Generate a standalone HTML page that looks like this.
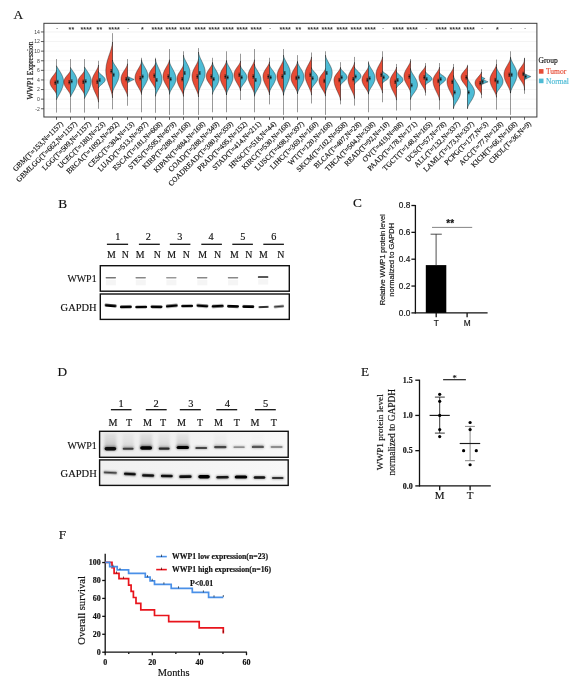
<!DOCTYPE html>
<html lang="en"><head><meta charset="utf-8"><title>WWP1 expression figure</title>
<style>html,body{margin:0;padding:0;background:#fff;}body{width:569px;height:685px;overflow:hidden;}svg{display:block;}text{white-space:pre;stroke:#111;stroke-width:.16px;}text.r{stroke:#E64B35;}text.b{stroke:#4DBBD5;}text.n{stroke:none;}</style>
</head><body>
<svg width="569" height="685" viewBox="0 0 569 685">
<defs>
<filter id="b04" x="-30%" y="-100%" width="160%" height="300%"><feGaussianBlur stdDeviation="0.4"/></filter>
<filter id="b05" x="-30%" y="-100%" width="160%" height="300%"><feGaussianBlur stdDeviation="0.5"/></filter>
<filter id="b07" x="-30%" y="-100%" width="160%" height="300%"><feGaussianBlur stdDeviation="0.8"/></filter>
<filter id="b12" x="-30%" y="-100%" width="160%" height="300%"><feGaussianBlur stdDeviation="1.2"/></filter>
<linearGradient id="smear" x1="0" y1="0" x2="0" y2="1"><stop offset="0" stop-color="#777" stop-opacity="0.25"/><stop offset="0.6" stop-color="#666" stop-opacity="0.5"/><stop offset="1" stop-color="#333" stop-opacity="0.9"/></linearGradient>
<linearGradient id="bgD" x1="0" y1="0" x2="1" y2="0"><stop offset="0" stop-color="#ececec"/><stop offset="0.5" stop-color="#f2f2f2"/><stop offset="1" stop-color="#f8f8f8"/></linearGradient>
<linearGradient id="bgD2" x1="0" y1="0" x2="1" y2="0"><stop offset="0" stop-color="#f1f1f1"/><stop offset="0.5" stop-color="#f4f4f4"/><stop offset="1" stop-color="#f8f8f8"/></linearGradient>
</defs>
<rect width="569" height="685" fill="#fff"/>
<g id="pA">
<line x1="43.9" x2="536.9" y1="113.55" y2="113.55" stroke="#fcfcfc" stroke-width="0.5"/>
<line x1="43.9" x2="536.9" y1="108.75" y2="108.75" stroke="#ebebeb" stroke-width="0.6"/>
<line x1="43.9" x2="536.9" y1="103.95" y2="103.95" stroke="#fcfcfc" stroke-width="0.5"/>
<line x1="43.9" x2="536.9" y1="99.15" y2="99.15" stroke="#ebebeb" stroke-width="0.6"/>
<line x1="43.9" x2="536.9" y1="94.35" y2="94.35" stroke="#fcfcfc" stroke-width="0.5"/>
<line x1="43.9" x2="536.9" y1="89.55" y2="89.55" stroke="#ebebeb" stroke-width="0.6"/>
<line x1="43.9" x2="536.9" y1="84.75" y2="84.75" stroke="#fcfcfc" stroke-width="0.5"/>
<line x1="43.9" x2="536.9" y1="79.95" y2="79.95" stroke="#ebebeb" stroke-width="0.6"/>
<line x1="43.9" x2="536.9" y1="75.15" y2="75.15" stroke="#fcfcfc" stroke-width="0.5"/>
<line x1="43.9" x2="536.9" y1="70.35" y2="70.35" stroke="#ebebeb" stroke-width="0.6"/>
<line x1="43.9" x2="536.9" y1="65.55" y2="65.55" stroke="#fcfcfc" stroke-width="0.5"/>
<line x1="43.9" x2="536.9" y1="60.75" y2="60.75" stroke="#ebebeb" stroke-width="0.6"/>
<line x1="43.9" x2="536.9" y1="55.95" y2="55.95" stroke="#fcfcfc" stroke-width="0.5"/>
<line x1="43.9" x2="536.9" y1="51.15" y2="51.15" stroke="#ebebeb" stroke-width="0.6"/>
<line x1="43.9" x2="536.9" y1="46.35" y2="46.35" stroke="#fcfcfc" stroke-width="0.5"/>
<line x1="43.9" x2="536.9" y1="41.55" y2="41.55" stroke="#ebebeb" stroke-width="0.6"/>
<line x1="43.9" x2="536.9" y1="36.75" y2="36.75" stroke="#fcfcfc" stroke-width="0.5"/>
<line x1="43.9" x2="536.9" y1="31.95" y2="31.95" stroke="#ebebeb" stroke-width="0.6"/>
<line x1="56.50" x2="56.50" y1="59.02" y2="112.62" stroke="#444" stroke-width="0.55"/>
<path d="M56.50 70.19 L56.50 70.19 L56.40 70.75 L56.21 71.31 L55.95 71.87 L55.63 72.43 L55.27 72.99 L54.89 73.55 L54.47 74.11 L54.04 74.66 L53.60 75.22 L53.16 75.78 L52.73 76.34 L52.30 76.90 L51.90 77.46 L51.53 78.02 L51.18 78.58 L50.87 79.14 L50.61 79.70 L50.38 80.26 L50.21 80.82 L50.09 81.38 L50.02 81.93 L50.00 82.49 L50.03 83.05 L50.12 83.61 L50.26 84.17 L50.44 84.73 L50.68 85.29 L50.95 85.85 L51.26 86.41 L51.61 86.97 L51.99 87.53 L52.39 88.09 L52.80 88.64 L53.23 89.20 L53.67 89.76 L54.10 90.32 L54.52 90.88 L54.93 91.44 L55.31 92.00 L55.65 92.56 L55.96 93.12 L56.22 93.68 L56.41 94.24 L56.50 94.80 L56.50 94.80 Z" fill="#E64B35" stroke="#111" stroke-width="0.4" stroke-linejoin="round"/>
<path d="M56.50 65.79 L56.50 65.79 L56.87 66.56 L57.31 67.33 L57.79 68.09 L58.28 68.86 L58.77 69.63 L59.27 70.40 L59.76 71.17 L60.23 71.94 L60.69 72.71 L61.13 73.48 L61.54 74.25 L61.92 75.02 L62.26 75.79 L62.57 76.56 L62.84 77.33 L63.07 78.10 L63.25 78.87 L63.39 79.64 L63.48 80.41 L63.53 81.18 L63.52 81.94 L63.49 82.71 L63.41 83.48 L63.30 84.25 L63.16 85.02 L62.98 85.79 L62.77 86.56 L62.53 87.33 L62.26 88.10 L61.97 88.87 L61.64 89.64 L61.30 90.41 L60.93 91.18 L60.54 91.95 L60.14 92.72 L59.73 93.49 L59.31 94.26 L58.88 95.02 L58.45 95.79 L58.02 96.56 L57.60 97.33 L57.19 98.10 L56.81 98.87 L56.50 99.64 L56.50 99.64 Z" fill="#4DBBD5" stroke="#111" stroke-width="0.4" stroke-linejoin="round"/>
<path d="M55.25 80.99 V84.39 M54.40 80.99 H56.10 M54.40 84.39 H56.10" stroke="#111" stroke-width="0.5" fill="none"/>
<circle cx="55.25" cy="82.69" r="0.85" fill="#111"/>
<path d="M57.75 80.31 V83.31 M56.90 80.31 H58.60 M56.90 83.31 H58.60" stroke="#111" stroke-width="0.5" fill="none"/>
<circle cx="57.75" cy="81.81" r="0.85" fill="#111"/>
<line x1="70.50" x2="70.50" y1="59.02" y2="112.62" stroke="#444" stroke-width="0.55"/>
<path d="M70.50 70.08 L70.50 70.08 L70.39 70.66 L70.17 71.23 L69.87 71.81 L69.51 72.39 L69.11 72.97 L68.67 73.55 L68.20 74.12 L67.72 74.70 L67.24 75.28 L66.76 75.86 L66.29 76.44 L65.84 77.01 L65.43 77.59 L65.04 78.17 L64.71 78.75 L64.42 79.33 L64.18 79.90 L64.00 80.48 L63.88 81.06 L63.83 81.64 L63.83 82.22 L63.88 82.79 L63.98 83.37 L64.13 83.95 L64.31 84.53 L64.54 85.11 L64.81 85.68 L65.11 86.26 L65.44 86.84 L65.80 87.42 L66.19 88.00 L66.58 88.57 L67.00 89.15 L67.41 89.73 L67.83 90.31 L68.24 90.89 L68.64 91.46 L69.03 92.04 L69.39 92.62 L69.71 93.20 L70.00 93.78 L70.24 94.35 L70.41 94.93 L70.50 95.51 L70.50 95.51 Z" fill="#E64B35" stroke="#111" stroke-width="0.4" stroke-linejoin="round"/>
<path d="M70.50 67.48 L70.50 67.48 L70.84 68.15 L71.26 68.82 L71.71 69.48 L72.17 70.15 L72.63 70.82 L73.09 71.49 L73.55 72.16 L73.99 72.83 L74.42 73.50 L74.83 74.16 L75.21 74.83 L75.56 75.50 L75.87 76.17 L76.16 76.84 L76.40 77.51 L76.61 78.18 L76.77 78.84 L76.89 79.51 L76.97 80.18 L77.00 80.85 L76.99 81.52 L76.95 82.19 L76.88 82.86 L76.77 83.52 L76.63 84.19 L76.46 84.86 L76.27 85.53 L76.04 86.20 L75.79 86.87 L75.52 87.53 L75.22 88.20 L74.90 88.87 L74.56 89.54 L74.20 90.21 L73.84 90.88 L73.46 91.55 L73.07 92.21 L72.67 92.88 L72.28 93.55 L71.89 94.22 L71.50 94.89 L71.13 95.56 L70.79 96.23 L70.50 96.89 L70.50 96.89 Z" fill="#4DBBD5" stroke="#111" stroke-width="0.4" stroke-linejoin="round"/>
<path d="M69.25 80.46 V83.86 M68.40 80.46 H70.10 M68.40 83.86 H70.10" stroke="#111" stroke-width="0.5" fill="none"/>
<circle cx="69.25" cy="82.16" r="0.85" fill="#111"/>
<path d="M71.75 79.78 V82.78 M70.90 79.78 H72.60 M70.90 82.78 H72.60" stroke="#111" stroke-width="0.5" fill="none"/>
<circle cx="71.75" cy="81.28" r="0.85" fill="#111"/>
<line x1="84.50" x2="84.50" y1="59.02" y2="112.62" stroke="#444" stroke-width="0.55"/>
<path d="M84.50 70.14 L84.50 70.14 L84.39 70.71 L84.16 71.29 L83.86 71.86 L83.49 72.43 L83.08 73.01 L82.64 73.58 L82.17 74.15 L81.69 74.73 L81.20 75.30 L80.73 75.87 L80.26 76.45 L79.83 77.02 L79.42 77.59 L79.05 78.17 L78.73 78.74 L78.47 79.31 L78.26 79.89 L78.11 80.46 L78.02 81.03 L78.00 81.61 L78.03 82.18 L78.10 82.75 L78.22 83.33 L78.37 83.90 L78.57 84.47 L78.80 85.05 L79.07 85.62 L79.37 86.19 L79.69 86.77 L80.04 87.34 L80.41 87.91 L80.80 88.48 L81.19 89.06 L81.59 89.63 L81.99 90.20 L82.38 90.78 L82.75 91.35 L83.12 91.92 L83.45 92.50 L83.76 93.07 L84.03 93.64 L84.25 94.22 L84.42 94.79 L84.50 95.36 L84.50 95.36 Z" fill="#E64B35" stroke="#111" stroke-width="0.4" stroke-linejoin="round"/>
<path d="M84.50 66.92 L84.50 66.92 L84.87 67.64 L85.31 68.36 L85.79 69.08 L86.27 69.80 L86.77 70.52 L87.26 71.24 L87.74 71.96 L88.21 72.68 L88.65 73.40 L89.07 74.11 L89.47 74.83 L89.83 75.55 L90.15 76.27 L90.43 76.99 L90.67 77.71 L90.87 78.43 L91.02 79.15 L91.12 79.87 L91.17 80.58 L91.18 81.30 L91.15 82.02 L91.08 82.74 L90.99 83.46 L90.87 84.18 L90.72 84.90 L90.53 85.62 L90.32 86.34 L90.09 87.06 L89.83 87.77 L89.54 88.49 L89.24 89.21 L88.91 89.93 L88.57 90.65 L88.21 91.37 L87.83 92.09 L87.45 92.81 L87.06 93.53 L86.67 94.25 L86.27 94.96 L85.88 95.68 L85.50 96.40 L85.13 97.12 L84.78 97.84 L84.50 98.56 L84.50 98.56 Z" fill="#4DBBD5" stroke="#111" stroke-width="0.4" stroke-linejoin="round"/>
<path d="M83.25 80.11 V83.51 M82.40 80.11 H84.10 M82.40 83.51 H84.10" stroke="#111" stroke-width="0.5" fill="none"/>
<circle cx="83.25" cy="81.81" r="0.85" fill="#111"/>
<path d="M85.75 79.78 V82.78 M84.90 79.78 H86.60 M84.90 82.78 H86.60" stroke="#111" stroke-width="0.5" fill="none"/>
<circle cx="85.75" cy="81.28" r="0.85" fill="#111"/>
<line x1="98.50" x2="98.50" y1="60.77" y2="108.75" stroke="#444" stroke-width="0.55"/>
<path d="M98.50 64.97 L98.50 64.97 L98.39 65.82 L98.15 66.66 L97.84 67.51 L97.47 68.35 L97.05 69.20 L96.60 70.05 L96.12 70.89 L95.63 71.74 L95.14 72.58 L94.66 73.43 L94.19 74.27 L93.75 75.12 L93.35 75.97 L92.99 76.81 L92.67 77.66 L92.41 78.50 L92.21 79.35 L92.08 80.20 L92.01 81.04 L92.00 81.89 L92.04 82.73 L92.12 83.58 L92.25 84.42 L92.41 85.27 L92.62 86.12 L92.85 86.96 L93.13 87.81 L93.43 88.65 L93.75 89.50 L94.10 90.35 L94.47 91.19 L94.85 92.04 L95.24 92.88 L95.63 93.73 L96.03 94.57 L96.41 95.42 L96.78 96.27 L97.14 97.11 L97.47 97.96 L97.77 98.80 L98.04 99.65 L98.26 100.50 L98.42 101.34 L98.50 102.19 L98.50 102.19 Z" fill="#E64B35" stroke="#111" stroke-width="0.4" stroke-linejoin="round"/>
<path d="M98.50 71.48 L98.50 71.48 L98.60 71.86 L98.80 72.24 L99.06 72.61 L99.38 72.99 L99.74 73.36 L100.14 73.74 L100.56 74.12 L101.00 74.49 L101.44 74.87 L101.89 75.24 L102.34 75.62 L102.77 75.99 L103.18 76.37 L103.56 76.75 L103.92 77.12 L104.24 77.50 L104.52 77.87 L104.75 78.25 L104.94 78.63 L105.07 79.00 L105.15 79.38 L105.18 79.75 L105.15 80.13 L105.07 80.51 L104.94 80.88 L104.75 81.26 L104.52 81.63 L104.24 82.01 L103.92 82.39 L103.56 82.76 L103.18 83.14 L102.77 83.51 L102.34 83.89 L101.89 84.27 L101.44 84.64 L101.00 85.02 L100.56 85.39 L100.14 85.77 L99.74 86.14 L99.38 86.52 L99.06 86.90 L98.80 87.27 L98.60 87.65 L98.50 88.02 L98.50 88.02 Z" fill="#4DBBD5" stroke="#111" stroke-width="0.4" stroke-linejoin="round"/>
<path d="M97.25 80.11 V83.51 M96.40 80.11 H98.10 M96.40 83.51 H98.10" stroke="#111" stroke-width="0.5" fill="none"/>
<circle cx="97.25" cy="81.81" r="0.85" fill="#111"/>
<path d="M99.75 78.55 V81.55 M98.90 78.55 H100.60 M98.90 81.55 H100.60" stroke="#111" stroke-width="0.5" fill="none"/>
<circle cx="99.75" cy="80.05" r="0.85" fill="#111"/>
<line x1="112.50" x2="112.50" y1="33.18" y2="109.28" stroke="#444" stroke-width="0.55"/>
<path d="M112.50 42.02 L112.50 42.02 L112.41 43.29 L112.22 44.56 L111.97 45.83 L111.67 47.10 L111.33 48.36 L110.95 49.63 L110.55 50.90 L110.13 52.17 L109.70 53.44 L109.27 54.71 L108.84 55.98 L108.42 57.25 L108.01 58.51 L107.62 59.78 L107.27 61.05 L106.94 62.32 L106.65 63.59 L106.39 64.86 L106.18 66.13 L106.02 67.40 L105.90 68.66 L105.84 69.93 L105.82 71.20 L105.86 72.47 L105.96 73.74 L106.12 75.01 L106.32 76.28 L106.58 77.55 L106.89 78.81 L107.24 80.08 L107.62 81.35 L108.04 82.62 L108.48 83.89 L108.94 85.16 L109.40 86.43 L109.87 87.70 L110.32 88.96 L110.77 90.23 L111.18 91.50 L111.57 92.77 L111.91 94.04 L112.19 95.31 L112.40 96.58 L112.50 97.85 L112.50 97.85 Z" fill="#E64B35" stroke="#111" stroke-width="0.4" stroke-linejoin="round"/>
<path d="M112.50 60.01 L112.50 60.01 L112.62 60.76 L112.86 61.51 L113.19 62.26 L113.58 63.02 L114.02 63.77 L114.50 64.52 L115.00 65.27 L115.51 66.02 L116.02 66.77 L116.52 67.53 L117.00 68.28 L117.46 69.03 L117.87 69.78 L118.24 70.53 L118.55 71.29 L118.81 72.04 L119.00 72.79 L119.12 73.54 L119.18 74.29 L119.17 75.05 L119.11 75.80 L119.02 76.55 L118.88 77.30 L118.70 78.05 L118.49 78.80 L118.24 79.56 L117.96 80.31 L117.65 81.06 L117.31 81.81 L116.95 82.56 L116.58 83.32 L116.19 84.07 L115.79 84.82 L115.39 85.57 L115.00 86.32 L114.61 87.08 L114.23 87.83 L113.87 88.58 L113.54 89.33 L113.23 90.08 L112.97 90.83 L112.74 91.59 L112.58 92.34 L112.50 93.09 L112.50 93.09 Z" fill="#4DBBD5" stroke="#111" stroke-width="0.4" stroke-linejoin="round"/>
<path d="M111.25 69.57 V72.97 M110.40 69.57 H112.10 M110.40 72.97 H112.10" stroke="#111" stroke-width="0.5" fill="none"/>
<circle cx="111.25" cy="71.27" r="0.85" fill="#111"/>
<path d="M113.75 73.28 V76.28 M112.90 73.28 H114.60 M112.90 76.28 H114.60" stroke="#111" stroke-width="0.5" fill="none"/>
<circle cx="113.75" cy="74.78" r="0.85" fill="#111"/>
<line x1="127.50" x2="127.50" y1="59.02" y2="105.76" stroke="#444" stroke-width="0.55"/>
<path d="M127.50 63.78 L127.50 63.78 L127.39 64.52 L127.17 65.27 L126.88 66.01 L126.53 66.75 L126.14 67.49 L125.71 68.24 L125.25 68.98 L124.78 69.72 L124.31 70.46 L123.84 71.21 L123.39 71.95 L122.95 72.69 L122.54 73.43 L122.17 74.18 L121.84 74.92 L121.56 75.66 L121.34 76.40 L121.16 77.15 L121.05 77.89 L121.00 78.63 L121.01 79.37 L121.06 80.12 L121.16 80.86 L121.30 81.60 L121.49 82.34 L121.71 83.09 L121.97 83.83 L122.27 84.57 L122.59 85.31 L122.94 86.06 L123.31 86.80 L123.70 87.54 L124.10 88.28 L124.51 89.03 L124.91 89.77 L125.31 90.51 L125.70 91.25 L126.07 92.00 L126.42 92.74 L126.74 93.48 L127.01 94.22 L127.24 94.96 L127.42 95.71 L127.50 96.45 L127.50 96.45 Z" fill="#E64B35" stroke="#111" stroke-width="0.4" stroke-linejoin="round"/>
<path d="M127.50 76.24 L127.50 76.24 L127.70 76.39 L127.95 76.54 L128.22 76.69 L128.50 76.85 L128.79 77.00 L129.10 77.15 L129.40 77.30 L129.72 77.45 L130.04 77.61 L130.37 77.76 L130.70 77.91 L131.04 78.06 L131.38 78.21 L131.73 78.36 L132.08 78.52 L132.43 78.67 L132.78 78.82 L133.14 78.97 L133.50 79.12 L133.87 79.27 L134.13 79.43 L133.80 79.58 L133.47 79.73 L133.14 79.88 L132.82 80.03 L132.50 80.19 L132.18 80.34 L131.87 80.49 L131.55 80.64 L131.24 80.79 L130.94 80.94 L130.64 81.10 L130.34 81.25 L130.04 81.40 L129.75 81.55 L129.47 81.70 L129.19 81.85 L128.91 82.01 L128.65 82.16 L128.39 82.31 L128.14 82.46 L127.90 82.61 L127.68 82.77 L127.50 82.92 L127.50 82.92 Z" fill="#4DBBD5" stroke="#111" stroke-width="0.4" stroke-linejoin="round"/>
<path d="M126.25 77.48 V80.88 M125.40 77.48 H127.10 M125.40 80.88 H127.10" stroke="#111" stroke-width="0.5" fill="none"/>
<circle cx="126.25" cy="79.18" r="0.85" fill="#111"/>
<path d="M128.75 77.90 V80.90 M127.90 77.90 H129.60 M127.90 80.90 H129.60" stroke="#111" stroke-width="0.5" fill="none"/>
<circle cx="128.75" cy="79.40" r="0.85" fill="#111"/>
<line x1="141.50" x2="141.50" y1="57.79" y2="112.27" stroke="#444" stroke-width="0.55"/>
<path d="M141.50 61.46 L141.50 61.46 L141.40 62.21 L141.21 62.96 L140.95 63.71 L140.64 64.46 L140.29 65.21 L139.91 65.97 L139.50 66.72 L139.07 67.47 L138.63 68.22 L138.20 68.97 L137.77 69.73 L137.35 70.48 L136.94 71.23 L136.57 71.98 L136.22 72.73 L135.91 73.49 L135.64 74.24 L135.41 74.99 L135.23 75.74 L135.10 76.49 L135.02 77.24 L135.00 78.00 L135.02 78.75 L135.10 79.50 L135.23 80.25 L135.41 81.00 L135.64 81.76 L135.91 82.51 L136.22 83.26 L136.57 84.01 L136.94 84.76 L137.35 85.52 L137.77 86.27 L138.20 87.02 L138.63 87.77 L139.07 88.52 L139.50 89.27 L139.91 90.03 L140.29 90.78 L140.64 91.53 L140.95 92.28 L141.21 93.03 L141.40 93.79 L141.50 94.54 L141.50 94.54 Z" fill="#E64B35" stroke="#111" stroke-width="0.4" stroke-linejoin="round"/>
<path d="M141.50 59.70 L141.50 59.70 L141.60 60.45 L141.79 61.20 L142.05 61.95 L142.36 62.71 L142.71 63.46 L143.09 64.21 L143.50 64.96 L143.93 65.71 L144.37 66.46 L144.80 67.22 L145.23 67.97 L145.65 68.72 L146.06 69.47 L146.43 70.22 L146.78 70.98 L147.09 71.73 L147.36 72.48 L147.59 73.23 L147.77 73.98 L147.90 74.74 L147.98 75.49 L148.00 76.24 L147.98 76.99 L147.90 77.74 L147.77 78.49 L147.59 79.25 L147.36 80.00 L147.09 80.75 L146.78 81.50 L146.43 82.25 L146.06 83.01 L145.65 83.76 L145.23 84.51 L144.80 85.26 L144.37 86.01 L143.93 86.77 L143.50 87.52 L143.09 88.27 L142.71 89.02 L142.36 89.77 L142.05 90.52 L141.79 91.28 L141.60 92.03 L141.50 92.78 L141.50 92.78 Z" fill="#4DBBD5" stroke="#111" stroke-width="0.4" stroke-linejoin="round"/>
<path d="M140.25 76.60 V80.00 M139.40 76.60 H141.10 M139.40 80.00 H141.10" stroke="#111" stroke-width="0.5" fill="none"/>
<circle cx="140.25" cy="78.30" r="0.85" fill="#111"/>
<path d="M142.75 75.04 V78.04 M141.90 75.04 H143.60 M141.90 78.04 H143.60" stroke="#111" stroke-width="0.5" fill="none"/>
<circle cx="142.75" cy="76.54" r="0.85" fill="#111"/>
<line x1="155.50" x2="155.50" y1="57.79" y2="112.79" stroke="#444" stroke-width="0.55"/>
<path d="M155.50 62.95 L155.50 62.95 L155.39 63.57 L155.17 64.18 L154.88 64.79 L154.53 65.40 L154.13 66.01 L153.70 66.62 L153.25 67.23 L152.78 67.84 L152.31 68.45 L151.84 69.06 L151.38 69.67 L150.94 70.29 L150.54 70.90 L150.17 71.51 L149.84 72.12 L149.56 72.73 L149.33 73.34 L149.16 73.95 L149.05 74.56 L149.00 75.17 L149.01 75.78 L149.06 76.39 L149.16 77.00 L149.30 77.62 L149.49 78.23 L149.71 78.84 L149.98 79.45 L150.27 80.06 L150.59 80.67 L150.94 81.28 L151.32 81.89 L151.70 82.50 L152.10 83.11 L152.51 83.72 L152.91 84.34 L153.31 84.95 L153.70 85.56 L154.07 86.17 L154.42 86.78 L154.74 87.39 L155.01 88.00 L155.24 88.61 L155.42 89.22 L155.50 89.83 L155.50 89.83 Z" fill="#E64B35" stroke="#111" stroke-width="0.4" stroke-linejoin="round"/>
<path d="M155.50 59.08 L155.50 59.08 L155.58 59.92 L155.74 60.77 L155.96 61.62 L156.23 62.46 L156.53 63.31 L156.86 64.15 L157.22 65.00 L157.59 65.84 L157.97 66.69 L158.37 67.54 L158.76 68.38 L159.15 69.23 L159.53 70.07 L159.90 70.92 L160.25 71.77 L160.57 72.61 L160.87 73.46 L161.15 74.30 L161.38 75.15 L161.59 75.99 L161.75 76.84 L161.88 77.69 L161.96 78.53 L162.00 79.38 L161.99 80.22 L161.92 81.07 L161.79 81.92 L161.59 82.76 L161.33 83.61 L161.01 84.45 L160.65 85.30 L160.25 86.14 L159.81 86.99 L159.34 87.84 L158.86 88.68 L158.37 89.53 L157.88 90.37 L157.40 91.22 L156.95 92.07 L156.53 92.91 L156.16 93.76 L155.85 94.60 L155.61 95.45 L155.50 96.29 L155.50 96.29 Z" fill="#4DBBD5" stroke="#111" stroke-width="0.4" stroke-linejoin="round"/>
<path d="M154.25 73.96 V77.36 M153.40 73.96 H155.10 M153.40 77.36 H155.10" stroke="#111" stroke-width="0.5" fill="none"/>
<circle cx="154.25" cy="75.66" r="0.85" fill="#111"/>
<path d="M156.75 78.55 V81.55 M155.90 78.55 H157.60 M155.90 81.55 H157.60" stroke="#111" stroke-width="0.5" fill="none"/>
<circle cx="156.75" cy="80.05" r="0.85" fill="#111"/>
<line x1="169.50" x2="169.50" y1="49.00" y2="114.90" stroke="#444" stroke-width="0.55"/>
<path d="M169.50 59.70 L169.50 59.70 L169.40 60.45 L169.21 61.20 L168.95 61.95 L168.64 62.71 L168.29 63.46 L167.91 64.21 L167.50 64.96 L167.07 65.71 L166.63 66.46 L166.20 67.22 L165.77 67.97 L165.35 68.72 L164.94 69.47 L164.57 70.22 L164.22 70.98 L163.91 71.73 L163.64 72.48 L163.41 73.23 L163.23 73.98 L163.10 74.74 L163.02 75.49 L163.00 76.24 L163.02 76.99 L163.10 77.74 L163.23 78.49 L163.41 79.25 L163.64 80.00 L163.91 80.75 L164.22 81.50 L164.57 82.25 L164.94 83.01 L165.35 83.76 L165.77 84.51 L166.20 85.26 L166.63 86.01 L167.07 86.77 L167.50 87.52 L167.91 88.27 L168.29 89.02 L168.64 89.77 L168.95 90.52 L169.21 91.28 L169.40 92.03 L169.50 92.78 L169.50 92.78 Z" fill="#E64B35" stroke="#111" stroke-width="0.4" stroke-linejoin="round"/>
<path d="M169.50 61.30 L169.50 61.30 L169.59 62.05 L169.76 62.80 L170.00 63.56 L170.28 64.31 L170.60 65.06 L170.96 65.81 L171.33 66.56 L171.73 67.32 L172.13 68.07 L172.55 68.82 L172.96 69.57 L173.36 70.32 L173.75 71.07 L174.12 71.83 L174.47 72.58 L174.80 73.33 L175.09 74.08 L175.34 74.83 L175.56 75.59 L175.74 76.34 L175.87 77.09 L175.96 77.84 L176.00 78.59 L175.99 79.35 L175.92 80.10 L175.80 80.85 L175.61 81.60 L175.38 82.35 L175.09 83.10 L174.76 83.86 L174.38 84.61 L173.98 85.36 L173.54 86.11 L173.09 86.86 L172.63 87.62 L172.16 88.37 L171.70 89.12 L171.26 89.87 L170.83 90.62 L170.45 91.37 L170.10 92.13 L169.82 92.88 L169.61 93.63 L169.50 94.38 L169.50 94.38 Z" fill="#4DBBD5" stroke="#111" stroke-width="0.4" stroke-linejoin="round"/>
<path d="M168.25 74.84 V78.24 M167.40 74.84 H169.10 M167.40 78.24 H169.10" stroke="#111" stroke-width="0.5" fill="none"/>
<circle cx="168.25" cy="76.54" r="0.85" fill="#111"/>
<path d="M170.75 77.68 V80.68 M169.90 77.68 H171.60 M169.90 80.68 H171.60" stroke="#111" stroke-width="0.5" fill="none"/>
<circle cx="170.75" cy="79.18" r="0.85" fill="#111"/>
<line x1="183.50" x2="183.50" y1="51.28" y2="114.90" stroke="#444" stroke-width="0.55"/>
<path d="M183.50 64.40 L183.50 64.40 L183.39 65.13 L183.16 65.86 L182.86 66.59 L182.50 67.32 L182.09 68.04 L181.64 68.77 L181.18 69.50 L180.70 70.23 L180.21 70.96 L179.73 71.69 L179.27 72.41 L178.83 73.14 L178.43 73.87 L178.06 74.60 L177.74 75.33 L177.47 76.06 L177.26 76.78 L177.11 77.51 L177.02 78.24 L177.00 78.97 L177.03 79.70 L177.10 80.43 L177.21 81.15 L177.37 81.88 L177.56 82.61 L177.80 83.34 L178.06 84.07 L178.36 84.80 L178.69 85.52 L179.04 86.25 L179.41 86.98 L179.79 87.71 L180.18 88.44 L180.58 89.17 L180.98 89.89 L181.37 90.62 L181.75 91.35 L182.11 92.08 L182.45 92.81 L182.76 93.54 L183.03 94.26 L183.25 94.99 L183.42 95.72 L183.50 96.45 L183.50 96.45 Z" fill="#E64B35" stroke="#111" stroke-width="0.4" stroke-linejoin="round"/>
<path d="M183.50 55.15 L183.50 55.15 L183.61 56.02 L183.83 56.89 L184.12 57.76 L184.48 58.63 L184.88 59.50 L185.31 60.37 L185.77 61.23 L186.24 62.10 L186.71 62.97 L187.18 63.84 L187.64 64.71 L188.08 65.58 L188.48 66.45 L188.85 67.32 L189.18 68.19 L189.46 69.06 L189.68 69.93 L189.85 70.80 L189.96 71.67 L190.00 72.54 L189.99 73.41 L189.93 74.27 L189.83 75.14 L189.68 76.01 L189.50 76.88 L189.27 77.75 L189.01 78.62 L188.71 79.49 L188.39 80.36 L188.04 81.23 L187.66 82.10 L187.28 82.97 L186.88 83.84 L186.48 84.71 L186.07 85.58 L185.67 86.45 L185.29 87.31 L184.92 88.18 L184.57 89.05 L184.26 89.92 L183.98 90.79 L183.75 91.66 L183.58 92.53 L183.50 93.40 L183.50 93.40 Z" fill="#4DBBD5" stroke="#111" stroke-width="0.4" stroke-linejoin="round"/>
<path d="M182.25 77.48 V80.88 M181.40 77.48 H183.10 M181.40 80.88 H183.10" stroke="#111" stroke-width="0.5" fill="none"/>
<circle cx="182.25" cy="79.18" r="0.85" fill="#111"/>
<path d="M184.75 71.52 V74.52 M183.90 71.52 H185.60 M183.90 74.52 H185.60" stroke="#111" stroke-width="0.5" fill="none"/>
<circle cx="184.75" cy="73.02" r="0.85" fill="#111"/>
<line x1="198.50" x2="198.50" y1="48.12" y2="114.90" stroke="#444" stroke-width="0.55"/>
<path d="M198.50 58.66 L198.50 58.66 L198.39 59.53 L198.17 60.40 L197.88 61.27 L197.52 62.14 L197.12 63.01 L196.69 63.88 L196.23 64.75 L195.76 65.62 L195.29 66.49 L194.82 67.36 L194.36 68.23 L193.92 69.10 L193.52 69.97 L193.15 70.84 L192.82 71.70 L192.54 72.57 L192.32 73.44 L192.15 74.31 L192.04 75.18 L192.00 76.05 L192.01 76.92 L192.07 77.79 L192.17 78.66 L192.32 79.53 L192.50 80.40 L192.73 81.27 L192.99 82.14 L193.29 83.01 L193.61 83.88 L193.96 84.74 L194.34 85.61 L194.72 86.48 L195.12 87.35 L195.52 88.22 L195.93 89.09 L196.33 89.96 L196.71 90.83 L197.08 91.70 L197.43 92.57 L197.74 93.44 L198.02 94.31 L198.25 95.18 L198.42 96.05 L198.50 96.92 L198.50 96.92 Z" fill="#E64B35" stroke="#111" stroke-width="0.4" stroke-linejoin="round"/>
<path d="M198.50 52.05 L198.50 52.05 L198.60 52.99 L198.80 53.93 L199.06 54.87 L199.38 55.81 L199.74 56.75 L200.14 57.69 L200.56 58.63 L201.00 59.57 L201.44 60.51 L201.89 61.45 L202.34 62.39 L202.77 63.33 L203.18 64.27 L203.56 65.21 L203.92 66.15 L204.24 67.09 L204.52 68.02 L204.75 68.96 L204.94 69.90 L205.07 70.84 L205.15 71.78 L205.18 72.72 L205.15 73.66 L205.07 74.60 L204.94 75.54 L204.75 76.48 L204.52 77.42 L204.24 78.36 L203.92 79.30 L203.56 80.24 L203.18 81.18 L202.77 82.12 L202.34 83.06 L201.89 84.00 L201.44 84.94 L201.00 85.88 L200.56 86.82 L200.14 87.76 L199.74 88.70 L199.38 89.64 L199.06 90.58 L198.80 91.52 L198.60 92.46 L198.50 93.40 L198.50 93.40 Z" fill="#4DBBD5" stroke="#111" stroke-width="0.4" stroke-linejoin="round"/>
<path d="M197.25 74.84 V78.24 M196.40 74.84 H198.10 M196.40 78.24 H198.10" stroke="#111" stroke-width="0.5" fill="none"/>
<circle cx="197.25" cy="76.54" r="0.85" fill="#111"/>
<path d="M199.75 71.52 V74.52 M198.90 71.52 H200.60 M198.90 74.52 H200.60" stroke="#111" stroke-width="0.5" fill="none"/>
<circle cx="199.75" cy="73.02" r="0.85" fill="#111"/>
<line x1="212.50" x2="212.50" y1="57.79" y2="112.27" stroke="#444" stroke-width="0.55"/>
<path d="M212.50 62.80 L212.50 62.80 L212.41 63.41 L212.22 64.02 L211.97 64.63 L211.67 65.24 L211.32 65.85 L210.95 66.46 L210.55 67.08 L210.13 67.69 L209.71 68.30 L209.29 68.91 L208.87 69.52 L208.46 70.13 L208.07 70.74 L207.70 71.35 L207.37 71.96 L207.06 72.57 L206.80 73.18 L206.58 73.80 L206.40 74.41 L206.28 75.02 L206.20 75.63 L206.17 76.24 L206.20 76.85 L206.28 77.46 L206.40 78.07 L206.58 78.68 L206.80 79.29 L207.06 79.90 L207.37 80.52 L207.70 81.13 L208.07 81.74 L208.46 82.35 L208.87 82.96 L209.29 83.57 L209.71 84.18 L210.13 84.79 L210.55 85.40 L210.95 86.01 L211.32 86.62 L211.67 87.23 L211.97 87.85 L212.22 88.46 L212.41 89.07 L212.50 89.68 L212.50 89.68 Z" fill="#E64B35" stroke="#111" stroke-width="0.4" stroke-linejoin="round"/>
<path d="M212.50 62.33 L212.50 62.33 L212.59 63.06 L212.77 63.79 L213.02 64.52 L213.32 65.25 L213.65 65.98 L214.02 66.70 L214.41 67.43 L214.82 68.16 L215.24 68.89 L215.67 69.62 L216.09 70.35 L216.50 71.07 L216.89 71.80 L217.27 72.53 L217.62 73.26 L217.94 73.99 L218.22 74.72 L218.46 75.44 L218.67 76.17 L218.82 76.90 L218.93 77.63 L218.99 78.36 L219.00 79.09 L218.96 79.82 L218.86 80.54 L218.70 81.27 L218.49 82.00 L218.24 82.73 L217.94 83.46 L217.60 84.19 L217.22 84.91 L216.82 85.64 L216.39 86.37 L215.95 87.10 L215.50 87.83 L215.05 88.56 L214.60 89.28 L214.17 90.01 L213.77 90.74 L213.40 91.47 L213.07 92.20 L212.80 92.93 L212.60 93.65 L212.50 94.38 L212.50 94.38 Z" fill="#4DBBD5" stroke="#111" stroke-width="0.4" stroke-linejoin="round"/>
<path d="M211.25 74.84 V78.24 M210.40 74.84 H212.10 M210.40 78.24 H212.10" stroke="#111" stroke-width="0.5" fill="none"/>
<circle cx="211.25" cy="76.54" r="0.85" fill="#111"/>
<path d="M213.75 77.68 V80.68 M212.90 77.68 H214.60 M212.90 80.68 H214.60" stroke="#111" stroke-width="0.5" fill="none"/>
<circle cx="213.75" cy="79.18" r="0.85" fill="#111"/>
<line x1="226.50" x2="226.50" y1="51.28" y2="112.27" stroke="#444" stroke-width="0.55"/>
<path d="M226.50 60.73 L226.50 60.73 L226.39 61.51 L226.17 62.28 L225.87 63.06 L225.51 63.83 L225.10 64.61 L224.66 65.38 L224.20 66.16 L223.72 66.93 L223.24 67.71 L222.77 68.49 L222.30 69.26 L221.87 70.04 L221.46 70.81 L221.09 71.59 L220.77 72.36 L220.50 73.14 L220.28 73.91 L220.12 74.69 L220.03 75.46 L220.00 76.24 L220.02 77.01 L220.09 77.79 L220.20 78.57 L220.35 79.34 L220.54 80.12 L220.77 80.89 L221.04 81.67 L221.33 82.44 L221.66 83.22 L222.01 83.99 L222.38 84.77 L222.77 85.54 L223.16 86.32 L223.56 87.09 L223.96 87.87 L224.35 88.64 L224.74 89.42 L225.10 90.20 L225.44 90.97 L225.75 91.75 L226.02 92.52 L226.25 93.30 L226.42 94.07 L226.50 94.85 L226.50 94.85 Z" fill="#E64B35" stroke="#111" stroke-width="0.4" stroke-linejoin="round"/>
<path d="M226.50 60.58 L226.50 60.58 L226.60 61.35 L226.80 62.13 L227.07 62.90 L227.40 63.68 L227.77 64.45 L228.17 65.23 L228.60 66.00 L229.04 66.78 L229.49 67.56 L229.94 68.33 L230.38 69.11 L230.81 69.88 L231.21 70.66 L231.59 71.43 L231.93 72.21 L232.23 72.98 L232.49 73.76 L232.69 74.53 L232.85 75.31 L232.95 76.08 L233.00 76.86 L232.99 77.63 L232.93 78.41 L232.83 79.19 L232.67 79.96 L232.47 80.74 L232.23 81.51 L231.95 82.29 L231.63 83.06 L231.28 83.84 L230.90 84.61 L230.51 85.39 L230.10 86.16 L229.67 86.94 L229.25 87.71 L228.83 88.49 L228.42 89.26 L228.02 90.04 L227.66 90.82 L227.32 91.59 L227.02 92.37 L226.77 93.14 L226.59 93.92 L226.50 94.69 L226.50 94.69 Z" fill="#4DBBD5" stroke="#111" stroke-width="0.4" stroke-linejoin="round"/>
<path d="M225.25 74.84 V78.24 M224.40 74.84 H226.10 M224.40 78.24 H226.10" stroke="#111" stroke-width="0.5" fill="none"/>
<circle cx="225.25" cy="76.54" r="0.85" fill="#111"/>
<path d="M227.75 75.92 V78.92 M226.90 75.92 H228.60 M226.90 78.92 H228.60" stroke="#111" stroke-width="0.5" fill="none"/>
<circle cx="227.75" cy="77.42" r="0.85" fill="#111"/>
<line x1="240.50" x2="240.50" y1="53.74" y2="99.96" stroke="#444" stroke-width="0.55"/>
<path d="M240.50 61.04 L240.50 61.04 L240.39 61.72 L240.16 62.40 L239.85 63.09 L239.49 63.77 L239.07 64.45 L238.62 65.13 L238.15 65.81 L237.67 66.49 L237.18 67.17 L236.70 67.86 L236.24 68.54 L235.80 69.22 L235.39 69.90 L235.03 70.58 L234.71 71.26 L234.45 71.94 L234.24 72.63 L234.10 73.31 L234.01 73.99 L234.00 74.67 L234.03 75.35 L234.11 76.03 L234.23 76.71 L234.39 77.39 L234.59 78.08 L234.82 78.76 L235.09 79.44 L235.39 80.12 L235.72 80.80 L236.07 81.48 L236.44 82.16 L236.82 82.85 L237.21 83.53 L237.61 84.21 L238.00 84.89 L238.39 85.57 L238.77 86.25 L239.13 86.93 L239.46 87.62 L239.77 88.30 L240.03 88.98 L240.25 89.66 L240.42 90.34 L240.50 91.02 L240.50 91.02 Z" fill="#E64B35" stroke="#111" stroke-width="0.4" stroke-linejoin="round"/>
<path d="M240.50 65.75 L240.50 65.75 L240.60 66.29 L240.80 66.83 L241.07 67.37 L241.39 67.91 L241.76 68.45 L242.16 68.99 L242.58 69.53 L243.02 70.07 L243.46 70.61 L243.91 71.15 L244.34 71.69 L244.76 72.23 L245.15 72.77 L245.52 73.31 L245.85 73.85 L246.13 74.39 L246.38 74.93 L246.57 75.47 L246.71 76.01 L246.80 76.55 L246.83 77.09 L246.81 77.63 L246.74 78.18 L246.62 78.72 L246.46 79.26 L246.26 79.80 L246.02 80.34 L245.74 80.88 L245.43 81.42 L245.09 81.96 L244.72 82.50 L244.34 83.04 L243.94 83.58 L243.54 84.12 L243.13 84.66 L242.73 85.20 L242.33 85.74 L241.96 86.28 L241.60 86.82 L241.28 87.36 L241.00 87.90 L240.76 88.44 L240.59 88.98 L240.50 89.52 L240.50 89.52 Z" fill="#4DBBD5" stroke="#111" stroke-width="0.4" stroke-linejoin="round"/>
<path d="M239.25 73.08 V76.48 M238.40 73.08 H240.10 M238.40 76.48 H240.10" stroke="#111" stroke-width="0.5" fill="none"/>
<circle cx="239.25" cy="74.78" r="0.85" fill="#111"/>
<path d="M241.75 75.92 V78.92 M240.90 75.92 H242.60 M240.90 78.92 H242.60" stroke="#111" stroke-width="0.5" fill="none"/>
<circle cx="241.75" cy="77.42" r="0.85" fill="#111"/>
<line x1="254.50" x2="254.50" y1="49.00" y2="112.27" stroke="#444" stroke-width="0.55"/>
<path d="M254.50 59.70 L254.50 59.70 L254.40 60.50 L254.18 61.30 L253.90 62.09 L253.56 62.89 L253.17 63.69 L252.75 64.49 L252.31 65.29 L251.85 66.09 L251.39 66.89 L250.93 67.69 L250.48 68.49 L250.04 69.28 L249.64 70.08 L249.26 70.88 L248.93 71.68 L248.64 72.48 L248.40 73.28 L248.21 74.08 L248.08 74.88 L248.01 75.68 L248.00 76.47 L248.04 77.27 L248.12 78.07 L248.25 78.87 L248.43 79.67 L248.64 80.47 L248.90 81.27 L249.19 82.07 L249.51 82.86 L249.86 83.66 L250.23 84.46 L250.62 85.26 L251.03 86.06 L251.44 86.86 L251.85 87.66 L252.26 88.46 L252.66 89.26 L253.04 90.05 L253.39 90.85 L253.72 91.65 L254.00 92.45 L254.24 93.25 L254.41 94.05 L254.50 94.85 L254.50 94.85 Z" fill="#E64B35" stroke="#111" stroke-width="0.4" stroke-linejoin="round"/>
<path d="M254.50 64.25 L254.50 64.25 L254.60 64.98 L254.80 65.70 L255.07 66.43 L255.40 67.16 L255.77 67.89 L256.17 68.62 L256.60 69.35 L257.05 70.07 L257.50 70.80 L257.95 71.53 L258.39 72.26 L258.82 72.99 L259.22 73.72 L259.60 74.44 L259.94 75.17 L260.24 75.90 L260.49 76.63 L260.70 77.36 L260.86 78.09 L260.96 78.81 L261.00 79.54 L260.99 80.27 L260.93 81.00 L260.82 81.73 L260.67 82.46 L260.46 83.18 L260.22 83.91 L259.94 84.64 L259.62 85.37 L259.27 86.10 L258.89 86.83 L258.50 87.55 L258.09 88.28 L257.67 89.01 L257.24 89.74 L256.82 90.47 L256.41 91.20 L256.02 91.92 L255.65 92.65 L255.32 93.38 L255.02 94.11 L254.77 94.84 L254.59 95.57 L254.50 96.29 L254.50 96.29 Z" fill="#4DBBD5" stroke="#111" stroke-width="0.4" stroke-linejoin="round"/>
<path d="M253.25 74.84 V78.24 M252.40 74.84 H254.10 M252.40 78.24 H254.10" stroke="#111" stroke-width="0.5" fill="none"/>
<circle cx="253.25" cy="76.54" r="0.85" fill="#111"/>
<path d="M255.75 78.55 V81.55 M254.90 78.55 H256.60 M254.90 81.55 H256.60" stroke="#111" stroke-width="0.5" fill="none"/>
<circle cx="255.75" cy="80.05" r="0.85" fill="#111"/>
<line x1="269.50" x2="269.50" y1="57.79" y2="104.36" stroke="#444" stroke-width="0.55"/>
<path d="M269.50 61.77 L269.50 61.77 L269.38 62.52 L269.14 63.27 L268.83 64.02 L268.45 64.77 L268.02 65.53 L267.56 66.28 L267.07 67.03 L266.57 67.78 L266.07 68.53 L265.58 69.28 L265.11 70.04 L264.67 70.79 L264.27 71.54 L263.91 72.29 L263.61 73.04 L263.36 73.80 L263.17 74.55 L263.05 75.30 L263.00 76.05 L263.01 76.80 L263.06 77.55 L263.15 78.31 L263.29 79.06 L263.46 79.81 L263.67 80.56 L263.91 81.31 L264.19 82.07 L264.49 82.82 L264.82 83.57 L265.16 84.32 L265.53 85.07 L265.91 85.83 L266.29 86.58 L266.68 87.33 L267.07 88.08 L267.45 88.83 L267.82 89.58 L268.17 90.34 L268.49 91.09 L268.79 91.84 L269.05 92.59 L269.26 93.34 L269.42 94.10 L269.50 94.85 L269.50 94.85 Z" fill="#E64B35" stroke="#111" stroke-width="0.4" stroke-linejoin="round"/>
<path d="M269.50 64.71 L269.50 64.71 L269.61 65.35 L269.84 65.98 L270.14 66.62 L270.50 67.25 L270.91 67.88 L271.35 68.52 L271.81 69.15 L272.29 69.79 L272.77 70.42 L273.24 71.06 L273.69 71.69 L274.12 72.32 L274.51 72.96 L274.87 73.59 L275.17 74.23 L275.42 74.86 L275.62 75.50 L275.75 76.13 L275.82 76.77 L275.82 77.40 L275.78 78.03 L275.70 78.67 L275.58 79.30 L275.42 79.94 L275.22 80.57 L274.99 81.21 L274.73 81.84 L274.44 82.47 L274.12 83.11 L273.78 83.74 L273.42 84.38 L273.05 85.01 L272.67 85.65 L272.29 86.28 L271.91 86.92 L271.53 87.55 L271.17 88.18 L270.82 88.82 L270.50 89.45 L270.21 90.09 L269.95 90.72 L269.74 91.36 L269.58 91.99 L269.50 92.62 L269.50 92.62 Z" fill="#4DBBD5" stroke="#111" stroke-width="0.4" stroke-linejoin="round"/>
<path d="M268.25 74.84 V78.24 M267.40 74.84 H269.10 M267.40 78.24 H269.10" stroke="#111" stroke-width="0.5" fill="none"/>
<circle cx="268.25" cy="76.54" r="0.85" fill="#111"/>
<path d="M270.75 75.92 V78.92 M269.90 75.92 H271.60 M269.90 78.92 H271.60" stroke="#111" stroke-width="0.5" fill="none"/>
<circle cx="270.75" cy="77.42" r="0.85" fill="#111"/>
<line x1="283.50" x2="283.50" y1="49.00" y2="114.90" stroke="#444" stroke-width="0.55"/>
<path d="M283.50 58.66 L283.50 58.66 L283.40 59.49 L283.20 60.31 L282.93 61.13 L282.60 61.95 L282.24 62.78 L281.83 63.60 L281.41 64.42 L280.97 65.24 L280.52 66.07 L280.07 66.89 L279.63 67.71 L279.20 68.53 L278.80 69.35 L278.42 70.18 L278.08 71.00 L277.78 71.82 L277.52 72.64 L277.31 73.47 L277.15 74.29 L277.05 75.11 L277.00 75.93 L277.01 76.76 L277.06 77.58 L277.17 78.40 L277.32 79.22 L277.52 80.05 L277.76 80.87 L278.05 81.69 L278.36 82.51 L278.71 83.33 L279.09 84.16 L279.48 84.98 L279.90 85.80 L280.32 86.62 L280.74 87.45 L281.17 88.27 L281.58 89.09 L281.97 89.91 L282.34 90.74 L282.68 91.56 L282.98 92.38 L283.23 93.20 L283.41 94.03 L283.50 94.85 L283.50 94.85 Z" fill="#E64B35" stroke="#111" stroke-width="0.4" stroke-linejoin="round"/>
<path d="M283.50 55.15 L283.50 55.15 L283.62 56.07 L283.87 56.98 L284.20 57.90 L284.59 58.81 L285.03 59.73 L285.51 60.65 L286.01 61.56 L286.52 62.48 L287.04 63.40 L287.54 64.31 L288.02 65.23 L288.48 66.15 L288.89 67.06 L289.26 67.98 L289.57 68.89 L289.82 69.81 L290.01 70.73 L290.13 71.64 L290.18 72.56 L290.16 73.48 L290.11 74.39 L290.01 75.31 L289.87 76.22 L289.69 77.14 L289.48 78.06 L289.23 78.97 L288.94 79.89 L288.63 80.81 L288.30 81.72 L287.94 82.64 L287.56 83.56 L287.18 84.47 L286.78 85.39 L286.38 86.30 L285.99 87.22 L285.60 88.14 L285.22 89.05 L284.86 89.97 L284.53 90.89 L284.23 91.80 L283.96 92.72 L283.74 93.64 L283.58 94.55 L283.50 95.47 L283.50 95.47 Z" fill="#4DBBD5" stroke="#111" stroke-width="0.4" stroke-linejoin="round"/>
<path d="M282.25 74.84 V78.24 M281.40 74.84 H283.10 M281.40 78.24 H283.10" stroke="#111" stroke-width="0.5" fill="none"/>
<circle cx="282.25" cy="76.54" r="0.85" fill="#111"/>
<path d="M284.75 71.52 V74.52 M283.90 71.52 H285.60 M283.90 74.52 H285.60" stroke="#111" stroke-width="0.5" fill="none"/>
<circle cx="284.75" cy="73.02" r="0.85" fill="#111"/>
<line x1="297.50" x2="297.50" y1="55.15" y2="112.27" stroke="#444" stroke-width="0.55"/>
<path d="M297.50 61.52 L297.50 61.52 L297.41 62.25 L297.22 62.97 L296.96 63.70 L296.65 64.43 L296.30 65.16 L295.92 65.89 L295.51 66.62 L295.09 67.34 L294.66 68.07 L294.22 68.80 L293.80 69.53 L293.38 70.26 L292.98 70.99 L292.60 71.71 L292.25 72.44 L291.94 73.17 L291.67 73.90 L291.44 74.63 L291.25 75.36 L291.12 76.08 L291.03 76.81 L291.00 77.54 L291.02 78.27 L291.09 79.00 L291.21 79.73 L291.39 80.46 L291.61 81.18 L291.88 81.91 L292.19 82.64 L292.54 83.37 L292.91 84.10 L293.31 84.83 L293.73 85.55 L294.17 86.28 L294.61 87.01 L295.05 87.74 L295.48 88.47 L295.89 89.20 L296.28 89.92 L296.63 90.65 L296.95 91.38 L297.21 92.11 L297.40 92.84 L297.50 93.57 L297.50 93.57 Z" fill="#E64B35" stroke="#111" stroke-width="0.4" stroke-linejoin="round"/>
<path d="M297.50 61.61 L297.50 61.61 L297.60 62.34 L297.80 63.07 L298.07 63.80 L298.40 64.52 L298.77 65.25 L299.17 65.98 L299.60 66.71 L300.05 67.44 L300.50 68.17 L300.95 68.89 L301.39 69.62 L301.82 70.35 L302.22 71.08 L302.60 71.81 L302.94 72.54 L303.24 73.26 L303.49 73.99 L303.70 74.72 L303.86 75.45 L303.96 76.18 L304.00 76.91 L303.99 77.63 L303.93 78.36 L303.82 79.09 L303.67 79.82 L303.46 80.55 L303.22 81.28 L302.94 82.00 L302.62 82.73 L302.27 83.46 L301.89 84.19 L301.50 84.92 L301.09 85.65 L300.67 86.38 L300.24 87.10 L299.82 87.83 L299.41 88.56 L299.02 89.29 L298.65 90.02 L298.32 90.75 L298.02 91.47 L297.77 92.20 L297.59 92.93 L297.50 93.66 L297.50 93.66 Z" fill="#4DBBD5" stroke="#111" stroke-width="0.4" stroke-linejoin="round"/>
<path d="M296.25 76.24 V79.64 M295.40 76.24 H297.10 M295.40 79.64 H297.10" stroke="#111" stroke-width="0.5" fill="none"/>
<circle cx="296.25" cy="77.94" r="0.85" fill="#111"/>
<path d="M298.75 75.92 V78.92 M297.90 75.92 H299.60 M297.90 78.92 H299.60" stroke="#111" stroke-width="0.5" fill="none"/>
<circle cx="298.75" cy="77.42" r="0.85" fill="#111"/>
<line x1="311.50" x2="311.50" y1="52.51" y2="103.48" stroke="#444" stroke-width="0.55"/>
<path d="M311.50 56.91 L311.50 56.91 L311.39 57.78 L311.17 58.65 L310.88 59.51 L310.52 60.38 L310.12 61.25 L309.69 62.12 L309.23 62.99 L308.76 63.86 L308.29 64.73 L307.82 65.60 L307.36 66.47 L306.92 67.34 L306.52 68.21 L306.15 69.08 L305.82 69.95 L305.54 70.82 L305.32 71.69 L305.15 72.55 L305.04 73.42 L305.00 74.29 L305.01 75.16 L305.07 76.03 L305.17 76.90 L305.32 77.77 L305.50 78.64 L305.73 79.51 L305.99 80.38 L306.29 81.25 L306.61 82.12 L306.96 82.99 L307.34 83.86 L307.72 84.73 L308.12 85.59 L308.52 86.46 L308.93 87.33 L309.33 88.20 L309.71 89.07 L310.08 89.94 L310.43 90.81 L310.74 91.68 L311.02 92.55 L311.25 93.42 L311.42 94.29 L311.50 95.16 L311.50 95.16 Z" fill="#E64B35" stroke="#111" stroke-width="0.4" stroke-linejoin="round"/>
<path d="M311.50 67.66 L311.50 67.66 L311.60 68.15 L311.80 68.65 L312.07 69.14 L312.40 69.63 L312.77 70.13 L313.17 70.62 L313.59 71.11 L314.03 71.61 L314.48 72.10 L314.92 72.59 L315.36 73.09 L315.78 73.58 L316.17 74.07 L316.54 74.57 L316.87 75.06 L317.15 75.55 L317.39 76.05 L317.58 76.54 L317.72 77.03 L317.80 77.53 L317.83 78.02 L317.80 78.51 L317.73 79.01 L317.61 79.50 L317.45 79.99 L317.24 80.49 L317.00 80.98 L316.72 81.47 L316.41 81.97 L316.07 82.46 L315.70 82.95 L315.32 83.45 L314.92 83.94 L314.52 84.43 L314.11 84.93 L313.71 85.42 L313.32 85.91 L312.95 86.41 L312.60 86.90 L312.28 87.39 L311.99 87.89 L311.76 88.38 L311.59 88.87 L311.50 89.37 L311.50 89.37 Z" fill="#4DBBD5" stroke="#111" stroke-width="0.4" stroke-linejoin="round"/>
<path d="M310.25 73.08 V76.48 M309.40 73.08 H311.10 M309.40 76.48 H311.10" stroke="#111" stroke-width="0.5" fill="none"/>
<circle cx="310.25" cy="74.78" r="0.85" fill="#111"/>
<path d="M312.75 76.80 V79.80 M311.90 76.80 H313.60 M311.90 79.80 H313.60" stroke="#111" stroke-width="0.5" fill="none"/>
<circle cx="312.75" cy="78.30" r="0.85" fill="#111"/>
<line x1="325.50" x2="325.50" y1="51.28" y2="114.90" stroke="#444" stroke-width="0.55"/>
<path d="M325.50 68.23 L325.50 68.23 L325.39 68.86 L325.15 69.50 L324.84 70.13 L324.47 70.76 L324.05 71.40 L323.60 72.03 L323.12 72.67 L322.63 73.30 L322.14 73.94 L321.66 74.57 L321.19 75.21 L320.75 75.84 L320.35 76.47 L319.99 77.11 L319.67 77.74 L319.41 78.38 L319.21 79.01 L319.08 79.65 L319.01 80.28 L319.00 80.91 L319.04 81.55 L319.12 82.18 L319.25 82.82 L319.41 83.45 L319.62 84.09 L319.85 84.72 L320.13 85.36 L320.43 85.99 L320.75 86.62 L321.10 87.26 L321.47 87.89 L321.85 88.53 L322.24 89.16 L322.63 89.80 L323.03 90.43 L323.41 91.06 L323.78 91.70 L324.14 92.33 L324.47 92.97 L324.77 93.60 L325.04 94.24 L325.26 94.87 L325.42 95.51 L325.50 96.14 L325.50 96.14 Z" fill="#E64B35" stroke="#111" stroke-width="0.4" stroke-linejoin="round"/>
<path d="M325.50 55.15 L325.50 55.15 L325.61 56.02 L325.84 56.89 L326.14 57.76 L326.50 58.63 L326.91 59.50 L327.36 60.37 L327.83 61.23 L328.31 62.10 L328.80 62.97 L329.28 63.84 L329.75 64.71 L330.20 65.58 L330.62 66.45 L331.00 67.32 L331.33 68.19 L331.62 69.06 L331.85 69.93 L332.02 70.80 L332.13 71.67 L332.18 72.54 L332.16 73.41 L332.10 74.27 L332.00 75.14 L331.85 76.01 L331.66 76.88 L331.43 77.75 L331.16 78.62 L330.85 79.49 L330.52 80.36 L330.16 81.23 L329.78 82.10 L329.38 82.97 L328.97 83.84 L328.56 84.71 L328.14 85.58 L327.73 86.45 L327.34 87.31 L326.96 88.18 L326.60 89.05 L326.28 89.92 L326.00 90.79 L325.76 91.66 L325.59 92.53 L325.50 93.40 L325.50 93.40 Z" fill="#4DBBD5" stroke="#111" stroke-width="0.4" stroke-linejoin="round"/>
<path d="M324.25 79.23 V82.63 M323.40 79.23 H325.10 M323.40 82.63 H325.10" stroke="#111" stroke-width="0.5" fill="none"/>
<circle cx="324.25" cy="80.93" r="0.85" fill="#111"/>
<path d="M326.75 71.52 V74.52 M325.90 71.52 H327.60 M325.90 74.52 H327.60" stroke="#111" stroke-width="0.5" fill="none"/>
<circle cx="326.75" cy="73.02" r="0.85" fill="#111"/>
<line x1="340.50" x2="340.50" y1="62.18" y2="104.36" stroke="#444" stroke-width="0.55"/>
<path d="M340.50 67.35 L340.50 67.35 L340.35 68.10 L340.05 68.85 L339.64 69.60 L339.17 70.36 L338.63 71.11 L338.07 71.86 L337.49 72.61 L336.91 73.36 L336.35 74.12 L335.82 74.87 L335.33 75.62 L334.91 76.37 L334.56 77.12 L334.29 77.87 L334.10 78.63 L334.01 79.38 L334.00 80.13 L334.04 80.88 L334.10 81.63 L334.20 82.39 L334.34 83.14 L334.50 83.89 L334.69 84.64 L334.91 85.39 L335.16 86.14 L335.43 86.90 L335.72 87.65 L336.02 88.40 L336.35 89.15 L336.68 89.90 L337.02 90.66 L337.37 91.41 L337.72 92.16 L338.07 92.91 L338.41 93.66 L338.74 94.42 L339.06 95.17 L339.36 95.92 L339.64 96.67 L339.90 97.42 L340.12 98.17 L340.30 98.93 L340.43 99.68 L340.50 100.43 L340.50 100.43 Z" fill="#E64B35" stroke="#111" stroke-width="0.4" stroke-linejoin="round"/>
<path d="M340.50 67.81 L340.50 67.81 L340.59 68.21 L340.76 68.61 L341.00 69.01 L341.28 69.41 L341.61 69.81 L341.96 70.21 L342.34 70.61 L342.74 71.01 L343.15 71.41 L343.56 71.81 L343.97 72.21 L344.38 72.61 L344.77 73.01 L345.14 73.41 L345.49 73.80 L345.81 74.20 L346.10 74.60 L346.36 75.00 L346.57 75.40 L346.75 75.80 L346.88 76.20 L346.96 76.60 L347.00 77.00 L346.99 77.40 L346.92 77.80 L346.79 78.20 L346.60 78.60 L346.36 79.00 L346.07 79.40 L345.74 79.80 L345.36 80.20 L344.96 80.60 L344.52 80.99 L344.07 81.39 L343.61 81.79 L343.15 82.19 L342.69 82.59 L342.25 82.99 L341.83 83.39 L341.44 83.79 L341.10 84.19 L340.82 84.59 L340.60 84.99 L340.50 85.39 L340.50 85.39 Z" fill="#4DBBD5" stroke="#111" stroke-width="0.4" stroke-linejoin="round"/>
<path d="M339.25 78.35 V81.75 M338.40 78.35 H340.10 M338.40 81.75 H340.10" stroke="#111" stroke-width="0.5" fill="none"/>
<circle cx="339.25" cy="80.05" r="0.85" fill="#111"/>
<path d="M341.75 75.92 V78.92 M340.90 75.92 H342.60 M340.90 78.92 H342.60" stroke="#111" stroke-width="0.5" fill="none"/>
<circle cx="341.75" cy="77.42" r="0.85" fill="#111"/>
<line x1="354.50" x2="354.50" y1="56.91" y2="105.59" stroke="#444" stroke-width="0.55"/>
<path d="M354.50 62.33 L354.50 62.33 L354.39 63.16 L354.17 63.98 L353.87 64.80 L353.52 65.62 L353.11 66.45 L352.68 67.27 L352.22 68.09 L351.74 68.91 L351.26 69.74 L350.79 70.56 L350.33 71.38 L349.90 72.20 L349.49 73.02 L349.12 73.85 L348.80 74.67 L348.52 75.49 L348.30 76.31 L348.14 77.14 L348.04 77.96 L348.00 78.78 L348.01 79.60 L348.08 80.43 L348.18 81.25 L348.33 82.07 L348.52 82.89 L348.75 83.72 L349.01 84.54 L349.31 85.36 L349.64 86.18 L349.99 87.00 L350.36 87.83 L350.74 88.65 L351.14 89.47 L351.54 90.29 L351.94 91.12 L352.34 91.94 L352.72 92.76 L353.09 93.58 L353.43 94.41 L353.75 95.23 L354.02 96.05 L354.25 96.87 L354.42 97.70 L354.50 98.52 L354.50 98.52 Z" fill="#E64B35" stroke="#111" stroke-width="0.4" stroke-linejoin="round"/>
<path d="M354.50 66.93 L354.50 66.93 L354.59 67.33 L354.76 67.73 L355.00 68.13 L355.28 68.53 L355.61 68.93 L355.96 69.33 L356.34 69.73 L356.74 70.13 L357.15 70.53 L357.56 70.93 L357.97 71.33 L358.38 71.73 L358.77 72.13 L359.14 72.53 L359.49 72.93 L359.81 73.33 L360.10 73.72 L360.36 74.12 L360.57 74.52 L360.75 74.92 L360.88 75.32 L360.96 75.72 L361.00 76.12 L360.99 76.52 L360.92 76.92 L360.79 77.32 L360.60 77.72 L360.36 78.12 L360.07 78.52 L359.74 78.92 L359.36 79.32 L358.96 79.72 L358.52 80.12 L358.07 80.52 L357.61 80.91 L357.15 81.31 L356.69 81.71 L356.25 82.11 L355.83 82.51 L355.44 82.91 L355.10 83.31 L354.82 83.71 L354.60 84.11 L354.50 84.51 L354.50 84.51 Z" fill="#4DBBD5" stroke="#111" stroke-width="0.4" stroke-linejoin="round"/>
<path d="M353.25 77.48 V80.88 M352.40 77.48 H354.10 M352.40 80.88 H354.10" stroke="#111" stroke-width="0.5" fill="none"/>
<circle cx="353.25" cy="79.18" r="0.85" fill="#111"/>
<path d="M355.75 75.04 V78.04 M354.90 75.04 H356.60 M354.90 78.04 H356.60" stroke="#111" stroke-width="0.5" fill="none"/>
<circle cx="355.75" cy="76.54" r="0.85" fill="#111"/>
<line x1="368.50" x2="368.50" y1="61.30" y2="112.27" stroke="#444" stroke-width="0.55"/>
<path d="M368.50 66.31 L368.50 66.31 L368.40 66.95 L368.19 67.58 L367.92 68.22 L367.59 68.85 L367.22 69.49 L366.81 70.12 L366.38 70.76 L365.94 71.39 L365.48 72.02 L365.03 72.66 L364.59 73.29 L364.16 73.93 L363.75 74.56 L363.38 75.20 L363.04 75.83 L362.74 76.46 L362.49 77.10 L362.28 77.73 L362.13 78.37 L362.04 79.00 L362.00 79.64 L362.01 80.27 L362.08 80.91 L362.19 81.54 L362.35 82.17 L362.55 82.81 L362.80 83.44 L363.08 84.08 L363.40 84.71 L363.75 85.35 L364.13 85.98 L364.52 86.61 L364.93 87.25 L365.35 87.88 L365.77 88.52 L366.19 89.15 L366.60 89.79 L366.99 90.42 L367.36 91.06 L367.69 91.69 L367.98 92.32 L368.23 92.96 L368.41 93.59 L368.50 94.23 L368.50 94.23 Z" fill="#E64B35" stroke="#111" stroke-width="0.4" stroke-linejoin="round"/>
<path d="M368.50 62.49 L368.50 62.49 L368.60 63.19 L368.79 63.90 L369.05 64.60 L369.36 65.31 L369.71 66.01 L370.09 66.72 L370.50 67.42 L370.93 68.13 L371.37 68.83 L371.80 69.54 L372.23 70.24 L372.65 70.95 L373.06 71.65 L373.43 72.36 L373.78 73.06 L374.09 73.77 L374.36 74.47 L374.59 75.18 L374.77 75.88 L374.90 76.59 L374.98 77.29 L375.00 78.00 L374.98 78.70 L374.90 79.41 L374.77 80.11 L374.59 80.82 L374.36 81.52 L374.09 82.23 L373.78 82.93 L373.43 83.64 L373.06 84.34 L372.65 85.05 L372.23 85.75 L371.80 86.45 L371.37 87.16 L370.93 87.86 L370.50 88.57 L370.09 89.27 L369.71 89.98 L369.36 90.68 L369.05 91.39 L368.79 92.09 L368.60 92.80 L368.50 93.50 L368.50 93.50 Z" fill="#4DBBD5" stroke="#111" stroke-width="0.4" stroke-linejoin="round"/>
<path d="M367.25 78.35 V81.75 M366.40 78.35 H368.10 M366.40 81.75 H368.10" stroke="#111" stroke-width="0.5" fill="none"/>
<circle cx="367.25" cy="80.05" r="0.85" fill="#111"/>
<path d="M369.75 76.80 V79.80 M368.90 76.80 H370.60 M368.90 79.80 H370.60" stroke="#111" stroke-width="0.5" fill="none"/>
<circle cx="369.75" cy="78.30" r="0.85" fill="#111"/>
<line x1="382.50" x2="382.50" y1="51.28" y2="102.25" stroke="#444" stroke-width="0.55"/>
<path d="M382.50 56.91 L382.50 56.91 L382.40 57.73 L382.20 58.55 L381.93 59.37 L381.60 60.20 L381.24 61.02 L380.83 61.84 L380.41 62.66 L379.97 63.49 L379.52 64.31 L379.07 65.13 L378.63 65.95 L378.20 66.77 L377.80 67.60 L377.42 68.42 L377.08 69.24 L376.78 70.06 L376.52 70.89 L376.31 71.71 L376.15 72.53 L376.05 73.35 L376.00 74.18 L376.01 75.00 L376.06 75.82 L376.17 76.64 L376.32 77.47 L376.52 78.29 L376.76 79.11 L377.05 79.93 L377.36 80.75 L377.71 81.58 L378.09 82.40 L378.48 83.22 L378.90 84.04 L379.32 84.87 L379.74 85.69 L380.17 86.51 L380.58 87.33 L380.97 88.16 L381.34 88.98 L381.68 89.80 L381.98 90.62 L382.23 91.45 L382.41 92.27 L382.50 93.09 L382.50 93.09 Z" fill="#E64B35" stroke="#111" stroke-width="0.4" stroke-linejoin="round"/>
<path d="M382.50 70.91 L382.50 70.91 L382.59 71.20 L382.78 71.48 L383.03 71.76 L383.33 72.04 L383.68 72.32 L384.05 72.61 L384.45 72.89 L384.87 73.17 L385.29 73.45 L385.71 73.73 L386.13 74.02 L386.54 74.30 L386.93 74.58 L387.30 74.86 L387.63 75.14 L387.94 75.43 L388.20 75.71 L388.42 75.99 L388.60 76.27 L388.72 76.55 L388.80 76.84 L388.83 77.12 L388.80 77.40 L388.72 77.68 L388.60 77.96 L388.42 78.25 L388.20 78.53 L387.94 78.81 L387.63 79.09 L387.30 79.37 L386.93 79.66 L386.54 79.94 L386.13 80.22 L385.71 80.50 L385.29 80.78 L384.87 81.07 L384.45 81.35 L384.05 81.63 L383.68 81.91 L383.33 82.19 L383.03 82.47 L382.78 82.76 L382.59 83.04 L382.50 83.32 L382.50 83.32 Z" fill="#4DBBD5" stroke="#111" stroke-width="0.4" stroke-linejoin="round"/>
<path d="M381.25 73.08 V76.48 M380.40 73.08 H382.10 M380.40 76.48 H382.10" stroke="#111" stroke-width="0.5" fill="none"/>
<circle cx="381.25" cy="74.78" r="0.85" fill="#111"/>
<path d="M383.75 75.92 V78.92 M382.90 75.92 H384.60 M382.90 78.92 H384.60" stroke="#111" stroke-width="0.5" fill="none"/>
<circle cx="383.75" cy="77.42" r="0.85" fill="#111"/>
<line x1="396.50" x2="396.50" y1="63.94" y2="110.51" stroke="#444" stroke-width="0.55"/>
<path d="M396.50 67.04 L396.50 67.04 L396.38 67.79 L396.14 68.54 L395.83 69.29 L395.45 70.05 L395.02 70.80 L394.56 71.55 L394.07 72.30 L393.57 73.05 L393.07 73.80 L392.58 74.56 L392.11 75.31 L391.67 76.06 L391.27 76.81 L390.91 77.56 L390.61 78.32 L390.36 79.07 L390.17 79.82 L390.05 80.57 L390.00 81.32 L390.01 82.08 L390.06 82.83 L390.15 83.58 L390.29 84.33 L390.46 85.08 L390.67 85.83 L390.91 86.59 L391.19 87.34 L391.49 88.09 L391.82 88.84 L392.16 89.59 L392.53 90.35 L392.91 91.10 L393.29 91.85 L393.68 92.60 L394.07 93.35 L394.45 94.11 L394.82 94.86 L395.17 95.61 L395.49 96.36 L395.79 97.11 L396.05 97.86 L396.26 98.62 L396.42 99.37 L396.50 100.12 L396.50 100.12 Z" fill="#E64B35" stroke="#111" stroke-width="0.4" stroke-linejoin="round"/>
<path d="M396.50 71.48 L396.50 71.48 L396.60 71.86 L396.79 72.24 L397.05 72.61 L397.36 72.99 L397.71 73.36 L398.09 73.74 L398.50 74.12 L398.93 74.49 L399.37 74.87 L399.80 75.24 L400.23 75.62 L400.65 75.99 L401.06 76.37 L401.43 76.75 L401.78 77.12 L402.09 77.50 L402.36 77.87 L402.59 78.25 L402.77 78.63 L402.90 79.00 L402.98 79.38 L403.00 79.75 L402.98 80.13 L402.90 80.51 L402.77 80.88 L402.59 81.26 L402.36 81.63 L402.09 82.01 L401.78 82.39 L401.43 82.76 L401.06 83.14 L400.65 83.51 L400.23 83.89 L399.80 84.27 L399.37 84.64 L398.93 85.02 L398.50 85.39 L398.09 85.77 L397.71 86.14 L397.36 86.52 L397.05 86.90 L396.79 87.27 L396.60 87.65 L396.50 88.02 L396.50 88.02 Z" fill="#4DBBD5" stroke="#111" stroke-width="0.4" stroke-linejoin="round"/>
<path d="M395.25 80.11 V83.51 M394.40 80.11 H396.10 M394.40 83.51 H396.10" stroke="#111" stroke-width="0.5" fill="none"/>
<circle cx="395.25" cy="81.81" r="0.85" fill="#111"/>
<path d="M397.75 78.55 V81.55 M396.90 78.55 H398.60 M396.90 81.55 H398.60" stroke="#111" stroke-width="0.5" fill="none"/>
<circle cx="397.75" cy="80.05" r="0.85" fill="#111"/>
<line x1="410.50" x2="410.50" y1="59.02" y2="110.51" stroke="#444" stroke-width="0.55"/>
<path d="M410.50 60.73 L410.50 60.73 L410.40 61.46 L410.20 62.19 L409.93 62.92 L409.60 63.65 L409.23 64.37 L408.83 65.10 L408.40 65.83 L407.95 66.56 L407.50 67.29 L407.05 68.02 L406.61 68.74 L406.18 69.47 L405.78 70.20 L405.40 70.93 L405.06 71.66 L404.76 72.39 L404.51 73.11 L404.30 73.84 L404.14 74.57 L404.04 75.30 L404.00 76.03 L404.01 76.76 L404.07 77.48 L404.18 78.21 L404.33 78.94 L404.54 79.67 L404.78 80.40 L405.06 81.13 L405.38 81.85 L405.73 82.58 L406.11 83.31 L406.50 84.04 L406.91 84.77 L407.33 85.50 L407.76 86.22 L408.18 86.95 L408.59 87.68 L408.98 88.41 L409.35 89.14 L409.68 89.87 L409.98 90.59 L410.23 91.32 L410.41 92.05 L410.50 92.78 L410.50 92.78 Z" fill="#E64B35" stroke="#111" stroke-width="0.4" stroke-linejoin="round"/>
<path d="M410.50 68.49 L410.50 68.49 L410.59 69.19 L410.78 69.90 L411.03 70.60 L411.34 71.30 L411.68 72.01 L412.06 72.71 L412.47 73.42 L412.90 74.12 L413.33 74.83 L413.78 75.53 L414.22 76.24 L414.65 76.94 L415.07 77.65 L415.48 78.35 L415.86 79.06 L416.21 79.76 L416.52 80.47 L416.80 81.17 L417.04 81.88 L417.23 82.58 L417.38 83.29 L417.48 83.99 L417.52 84.70 L417.52 85.40 L417.45 86.11 L417.32 86.81 L417.13 87.52 L416.87 88.22 L416.56 88.93 L416.21 89.63 L415.80 90.34 L415.36 91.04 L414.90 91.75 L414.41 92.45 L413.90 93.16 L413.40 93.86 L412.90 94.57 L412.41 95.27 L411.95 95.98 L411.53 96.68 L411.16 97.39 L410.85 98.09 L410.61 98.79 L410.50 99.50 L410.50 99.50 Z" fill="#4DBBD5" stroke="#111" stroke-width="0.4" stroke-linejoin="round"/>
<path d="M409.25 74.84 V78.24 M408.40 74.84 H410.10 M408.40 78.24 H410.10" stroke="#111" stroke-width="0.5" fill="none"/>
<circle cx="409.25" cy="76.54" r="0.85" fill="#111"/>
<path d="M411.75 83.83 V86.83 M410.90 83.83 H412.60 M410.90 86.83 H412.60" stroke="#111" stroke-width="0.5" fill="none"/>
<circle cx="411.75" cy="85.33" r="0.85" fill="#111"/>
<line x1="425.50" x2="425.50" y1="63.06" y2="95.57" stroke="#444" stroke-width="0.55"/>
<path d="M425.50 65.75 L425.50 65.75 L425.38 66.36 L425.13 66.97 L424.79 67.58 L424.39 68.19 L423.94 68.80 L423.46 69.41 L422.95 70.02 L422.44 70.63 L421.92 71.24 L421.42 71.85 L420.94 72.47 L420.50 73.08 L420.11 73.69 L419.76 74.30 L419.47 74.91 L419.25 75.52 L419.09 76.13 L419.01 76.74 L419.00 77.35 L419.04 77.96 L419.11 78.57 L419.22 79.19 L419.37 79.80 L419.56 80.41 L419.78 81.02 L420.03 81.63 L420.31 82.24 L420.62 82.85 L420.94 83.46 L421.29 84.07 L421.65 84.68 L422.02 85.29 L422.40 85.91 L422.78 86.52 L423.16 87.13 L423.52 87.74 L423.88 88.35 L424.22 88.96 L424.53 89.57 L424.81 90.18 L425.06 90.79 L425.27 91.40 L425.42 92.01 L425.50 92.62 L425.50 92.62 Z" fill="#E64B35" stroke="#111" stroke-width="0.4" stroke-linejoin="round"/>
<path d="M425.50 71.64 L425.50 71.64 L425.58 71.94 L425.76 72.25 L425.99 72.55 L426.26 72.86 L426.58 73.17 L426.93 73.47 L427.30 73.78 L427.69 74.08 L428.09 74.39 L428.49 74.69 L428.90 75.00 L429.30 75.30 L429.68 75.61 L430.06 75.91 L430.41 76.22 L430.73 76.53 L431.02 76.83 L431.29 77.14 L431.51 77.44 L431.70 77.75 L431.84 78.05 L431.94 78.36 L431.99 78.66 L432.00 78.97 L431.95 79.27 L431.84 79.58 L431.67 79.89 L431.44 80.19 L431.16 80.50 L430.83 80.80 L430.46 81.11 L430.06 81.41 L429.62 81.72 L429.16 82.02 L428.69 82.33 L428.22 82.63 L427.75 82.94 L427.30 83.25 L426.87 83.55 L426.47 83.86 L426.12 84.16 L425.83 84.47 L425.61 84.77 L425.50 85.08 L425.50 85.08 Z" fill="#4DBBD5" stroke="#111" stroke-width="0.4" stroke-linejoin="round"/>
<path d="M424.25 75.72 V79.12 M423.40 75.72 H425.10 M423.40 79.12 H425.10" stroke="#111" stroke-width="0.5" fill="none"/>
<circle cx="424.25" cy="77.42" r="0.85" fill="#111"/>
<path d="M426.75 77.68 V80.68 M425.90 77.68 H427.60 M425.90 80.68 H427.60" stroke="#111" stroke-width="0.5" fill="none"/>
<circle cx="426.75" cy="79.18" r="0.85" fill="#111"/>
<line x1="439.50" x2="439.50" y1="63.06" y2="109.63" stroke="#444" stroke-width="0.55"/>
<path d="M439.50 67.19 L439.50 67.19 L439.37 67.95 L439.10 68.70 L438.74 69.45 L438.32 70.20 L437.84 70.95 L437.33 71.70 L436.80 72.46 L436.26 73.21 L435.73 73.96 L435.22 74.71 L434.74 75.46 L434.30 76.22 L433.91 76.97 L433.58 77.72 L433.32 78.47 L433.14 79.22 L433.03 79.97 L433.00 80.73 L433.02 81.48 L433.08 82.23 L433.18 82.98 L433.31 83.73 L433.48 84.49 L433.68 85.24 L433.91 85.99 L434.17 86.74 L434.46 87.49 L434.76 88.25 L435.09 89.00 L435.43 89.75 L435.79 90.50 L436.15 91.25 L436.52 92.00 L436.89 92.76 L437.25 93.51 L437.61 94.26 L437.95 95.01 L438.27 95.76 L438.57 96.52 L438.85 97.27 L439.08 98.02 L439.28 98.77 L439.43 99.52 L439.50 100.27 L439.50 100.27 Z" fill="#E64B35" stroke="#111" stroke-width="0.4" stroke-linejoin="round"/>
<path d="M439.50 72.67 L439.50 72.67 L439.61 72.98 L439.82 73.28 L440.10 73.59 L440.44 73.89 L440.83 74.20 L441.25 74.51 L441.69 74.81 L442.15 75.12 L442.61 75.42 L443.06 75.73 L443.51 76.03 L443.93 76.34 L444.33 76.64 L444.69 76.95 L445.01 77.25 L445.28 77.56 L445.50 77.86 L445.67 78.17 L445.78 78.48 L445.82 78.78 L445.82 79.09 L445.76 79.39 L445.67 79.70 L445.53 80.00 L445.35 80.31 L445.13 80.61 L444.88 80.92 L444.59 81.22 L444.27 81.53 L443.93 81.84 L443.57 82.14 L443.19 82.45 L442.80 82.75 L442.41 83.06 L442.02 83.36 L441.63 83.67 L441.25 83.97 L440.89 84.28 L440.55 84.58 L440.24 84.89 L439.97 85.20 L439.75 85.50 L439.58 85.81 L439.50 86.11 L439.50 86.11 Z" fill="#4DBBD5" stroke="#111" stroke-width="0.4" stroke-linejoin="round"/>
<path d="M438.25 79.23 V82.63 M437.40 79.23 H439.10 M437.40 82.63 H439.10" stroke="#111" stroke-width="0.5" fill="none"/>
<circle cx="438.25" cy="80.93" r="0.85" fill="#111"/>
<path d="M440.75 77.68 V80.68 M439.90 77.68 H441.60 M439.90 80.68 H441.60" stroke="#111" stroke-width="0.5" fill="none"/>
<circle cx="440.75" cy="79.18" r="0.85" fill="#111"/>
<line x1="453.50" x2="453.50" y1="63.94" y2="108.75" stroke="#444" stroke-width="0.55"/>
<path d="M453.50 67.04 L453.50 67.04 L453.38 67.79 L453.14 68.54 L452.83 69.29 L452.45 70.05 L452.02 70.80 L451.56 71.55 L451.07 72.30 L450.57 73.05 L450.07 73.80 L449.58 74.56 L449.11 75.31 L448.67 76.06 L448.27 76.81 L447.91 77.56 L447.61 78.32 L447.36 79.07 L447.17 79.82 L447.05 80.57 L447.00 81.32 L447.01 82.08 L447.06 82.83 L447.15 83.58 L447.29 84.33 L447.46 85.08 L447.67 85.83 L447.91 86.59 L448.19 87.34 L448.49 88.09 L448.82 88.84 L449.16 89.59 L449.53 90.35 L449.91 91.10 L450.29 91.85 L450.68 92.60 L451.07 93.35 L451.45 94.11 L451.82 94.86 L452.17 95.61 L452.49 96.36 L452.79 97.11 L453.05 97.86 L453.26 98.62 L453.42 99.37 L453.50 100.12 L453.50 100.12 Z" fill="#E64B35" stroke="#111" stroke-width="0.4" stroke-linejoin="round"/>
<path d="M453.50 75.52 L453.50 75.52 L453.60 76.27 L453.81 77.02 L454.09 77.77 L454.43 78.52 L454.81 79.27 L455.22 80.03 L455.67 80.78 L456.13 81.53 L456.60 82.28 L457.07 83.03 L457.54 83.79 L457.99 84.54 L458.42 85.29 L458.83 86.04 L459.21 86.79 L459.54 87.55 L459.83 88.30 L460.08 89.05 L460.27 89.80 L460.42 90.55 L460.50 91.30 L460.53 92.06 L460.50 92.81 L460.42 93.56 L460.27 94.31 L460.08 95.06 L459.83 95.82 L459.54 96.57 L459.21 97.32 L458.83 98.07 L458.42 98.82 L457.99 99.57 L457.54 100.33 L457.07 101.08 L456.60 101.83 L456.13 102.58 L455.67 103.33 L455.22 104.09 L454.81 104.84 L454.43 105.59 L454.09 106.34 L453.81 107.09 L453.60 107.85 L453.50 108.60 L453.50 108.60 Z" fill="#4DBBD5" stroke="#111" stroke-width="0.4" stroke-linejoin="round"/>
<path d="M452.25 80.11 V83.51 M451.40 80.11 H453.10 M451.40 83.51 H453.10" stroke="#111" stroke-width="0.5" fill="none"/>
<circle cx="452.25" cy="81.81" r="0.85" fill="#111"/>
<path d="M454.75 90.86 V93.86 M453.90 90.86 H455.60 M453.90 93.86 H455.60" stroke="#111" stroke-width="0.5" fill="none"/>
<circle cx="454.75" cy="92.36" r="0.85" fill="#111"/>
<line x1="467.50" x2="467.50" y1="64.82" y2="108.75" stroke="#444" stroke-width="0.55"/>
<path d="M467.50 65.75 L467.50 65.75 L467.40 66.29 L467.19 66.83 L466.91 67.37 L466.58 67.91 L466.21 68.45 L465.80 68.99 L465.36 69.53 L464.91 70.07 L464.45 70.61 L464.00 71.15 L463.55 71.69 L463.12 72.23 L462.72 72.77 L462.34 73.31 L462.01 73.85 L461.71 74.39 L461.46 74.93 L461.26 75.47 L461.12 76.01 L461.03 76.55 L461.00 77.09 L461.02 77.63 L461.09 78.18 L461.21 78.72 L461.37 79.26 L461.58 79.80 L461.83 80.34 L462.11 80.88 L462.43 81.42 L462.78 81.96 L463.16 82.50 L463.55 83.04 L463.96 83.58 L464.38 84.12 L464.80 84.66 L465.21 85.20 L465.62 85.74 L466.00 86.28 L466.37 86.82 L466.70 87.36 L466.99 87.90 L467.23 88.44 L467.41 88.98 L467.50 89.52 L467.50 89.52 Z" fill="#E64B35" stroke="#111" stroke-width="0.4" stroke-linejoin="round"/>
<path d="M467.50 77.58 L467.50 77.58 L467.61 78.29 L467.85 78.99 L468.16 79.70 L468.53 80.40 L468.95 81.11 L469.41 81.81 L469.90 82.52 L470.40 83.22 L470.90 83.93 L471.41 84.63 L471.90 85.34 L472.36 86.04 L472.80 86.75 L473.21 87.45 L473.56 88.16 L473.87 88.86 L474.13 89.57 L474.32 90.27 L474.45 90.98 L474.52 91.68 L474.52 92.39 L474.48 93.09 L474.38 93.79 L474.23 94.50 L474.04 95.20 L473.80 95.91 L473.52 96.61 L473.21 97.32 L472.86 98.02 L472.48 98.73 L472.07 99.43 L471.65 100.14 L471.22 100.84 L470.78 101.55 L470.33 102.25 L469.90 102.96 L469.47 103.66 L469.06 104.37 L468.68 105.07 L468.34 105.78 L468.03 106.48 L467.78 107.19 L467.59 107.89 L467.50 108.60 L467.50 108.60 Z" fill="#4DBBD5" stroke="#111" stroke-width="0.4" stroke-linejoin="round"/>
<path d="M466.25 75.72 V79.12 M465.40 75.72 H467.10 M465.40 79.12 H467.10" stroke="#111" stroke-width="0.5" fill="none"/>
<circle cx="466.25" cy="77.42" r="0.85" fill="#111"/>
<path d="M468.75 90.86 V93.86 M467.90 90.86 H469.60 M467.90 93.86 H469.60" stroke="#111" stroke-width="0.5" fill="none"/>
<circle cx="468.75" cy="92.36" r="0.85" fill="#111"/>
<line x1="481.50" x2="481.50" y1="69.21" y2="98.21" stroke="#444" stroke-width="0.55"/>
<path d="M481.50 71.96 L481.50 71.96 L481.40 72.48 L481.20 72.99 L480.92 73.51 L480.59 74.03 L480.22 74.54 L479.81 75.06 L479.38 75.58 L478.94 76.09 L478.49 76.61 L478.03 77.13 L477.59 77.64 L477.16 78.16 L476.76 78.68 L476.38 79.20 L476.04 79.71 L475.74 80.23 L475.49 80.75 L475.29 81.26 L475.13 81.78 L475.04 82.30 L475.00 82.81 L475.01 83.33 L475.08 83.85 L475.19 84.36 L475.35 84.88 L475.55 85.40 L475.80 85.92 L476.08 86.43 L476.40 86.95 L476.75 87.47 L477.13 87.98 L477.52 88.50 L477.93 89.02 L478.35 89.53 L478.77 90.05 L479.19 90.57 L479.60 91.08 L479.99 91.60 L480.36 92.12 L480.69 92.64 L480.98 93.15 L481.23 93.67 L481.41 94.19 L481.50 94.70 L481.50 94.70 Z" fill="#E64B35" stroke="#111" stroke-width="0.4" stroke-linejoin="round"/>
<path d="M481.50 78.70 L481.50 78.70 L481.68 78.84 L481.90 78.97 L482.13 79.11 L482.38 79.24 L482.64 79.38 L482.90 79.51 L483.18 79.65 L483.45 79.79 L483.74 79.92 L484.03 80.06 L484.32 80.19 L484.61 80.33 L484.91 80.46 L485.22 80.60 L485.53 80.74 L485.84 80.87 L486.15 81.01 L486.46 81.14 L486.78 81.28 L487.10 81.42 L487.43 81.55 L487.75 81.69 L488.08 81.82 L487.92 81.96 L487.55 82.09 L487.18 82.23 L486.82 82.37 L486.46 82.50 L486.11 82.64 L485.76 82.77 L485.41 82.91 L485.07 83.05 L484.73 83.18 L484.39 83.32 L484.06 83.45 L483.74 83.59 L483.42 83.72 L483.11 83.86 L482.80 84.00 L482.51 84.13 L482.22 84.27 L481.95 84.40 L481.70 84.54 L481.50 84.67 L481.50 84.67 Z" fill="#4DBBD5" stroke="#111" stroke-width="0.4" stroke-linejoin="round"/>
<path d="M481.50 76.60 L481.50 76.60 L481.60 76.69 L481.73 76.78 L481.86 76.87 L482.01 76.96 L482.16 77.05 L482.31 77.15 L482.46 77.24 L482.62 77.33 L482.79 77.42 L482.95 77.51 L483.12 77.60 L483.29 77.69 L483.47 77.78 L483.64 77.87 L483.82 77.96 L484.00 78.05 L484.18 78.15 L484.36 78.24 L484.54 78.33 L484.73 78.42 L484.91 78.51 L485.10 78.60 L484.91 78.69 L484.73 78.78 L484.54 78.87 L484.36 78.96 L484.18 79.05 L484.00 79.15 L483.82 79.24 L483.64 79.33 L483.47 79.42 L483.29 79.51 L483.12 79.60 L482.95 79.69 L482.79 79.78 L482.62 79.87 L482.46 79.96 L482.31 80.05 L482.16 80.15 L482.01 80.24 L481.86 80.33 L481.73 80.42 L481.60 80.51 L481.50 80.60 L481.50 80.60 Z" fill="#4DBBD5" stroke="#111" stroke-width="0.4" stroke-linejoin="round"/>
<path d="M480.25 81.52 V84.92 M479.40 81.52 H481.10 M479.40 84.92 H481.10" stroke="#111" stroke-width="0.5" fill="none"/>
<circle cx="480.25" cy="83.22" r="0.85" fill="#111"/>
<path d="M482.75 80.36 V83.36 M481.90 80.36 H483.60 M481.90 83.36 H483.60" stroke="#111" stroke-width="0.5" fill="none"/>
<circle cx="482.75" cy="81.86" r="0.85" fill="#111"/>
<line x1="496.50" x2="496.50" y1="59.54" y2="109.63" stroke="#444" stroke-width="0.55"/>
<path d="M496.50 64.25 L496.50 64.25 L496.39 65.00 L496.18 65.75 L495.90 66.50 L495.55 67.25 L495.17 68.01 L494.74 68.76 L494.30 69.51 L493.84 70.26 L493.37 71.01 L492.91 71.77 L492.46 72.52 L492.02 73.27 L491.62 74.02 L491.24 74.77 L490.91 75.52 L490.62 76.28 L490.39 77.03 L490.20 77.78 L490.08 78.53 L490.01 79.28 L490.00 80.04 L490.04 80.79 L490.13 81.54 L490.26 82.29 L490.44 83.04 L490.66 83.80 L490.91 84.55 L491.20 85.30 L491.53 86.05 L491.88 86.80 L492.25 87.55 L492.64 88.31 L493.04 89.06 L493.45 89.81 L493.87 90.56 L494.27 91.31 L494.67 92.07 L495.04 92.82 L495.40 93.57 L495.72 94.32 L496.00 95.07 L496.24 95.82 L496.41 96.58 L496.50 97.33 L496.50 97.33 Z" fill="#E64B35" stroke="#111" stroke-width="0.4" stroke-linejoin="round"/>
<path d="M496.50 67.04 L496.50 67.04 L496.58 67.65 L496.76 68.26 L496.99 68.87 L497.26 69.48 L497.58 70.09 L497.93 70.70 L498.30 71.31 L498.69 71.93 L499.09 72.54 L499.49 73.15 L499.90 73.76 L500.30 74.37 L500.68 74.98 L501.06 75.59 L501.41 76.20 L501.73 76.81 L502.02 77.42 L502.29 78.03 L502.51 78.64 L502.70 79.26 L502.84 79.87 L502.94 80.48 L502.99 81.09 L503.00 81.70 L502.95 82.31 L502.84 82.92 L502.67 83.53 L502.44 84.14 L502.16 84.75 L501.83 85.36 L501.46 85.98 L501.06 86.59 L500.62 87.20 L500.16 87.81 L499.69 88.42 L499.22 89.03 L498.75 89.64 L498.30 90.25 L497.87 90.86 L497.47 91.47 L497.12 92.08 L496.83 92.70 L496.61 93.31 L496.50 93.92 L496.50 93.92 Z" fill="#4DBBD5" stroke="#111" stroke-width="0.4" stroke-linejoin="round"/>
<path d="M495.25 78.35 V81.75 M494.40 78.35 H496.10 M494.40 81.75 H496.10" stroke="#111" stroke-width="0.5" fill="none"/>
<circle cx="495.25" cy="80.05" r="0.85" fill="#111"/>
<path d="M497.75 80.31 V83.31 M496.90 80.31 H498.60 M496.90 83.31 H498.60" stroke="#111" stroke-width="0.5" fill="none"/>
<circle cx="497.75" cy="81.81" r="0.85" fill="#111"/>
<line x1="510.50" x2="510.50" y1="51.28" y2="114.90" stroke="#444" stroke-width="0.55"/>
<path d="M510.50 57.94 L510.50 57.94 L510.40 58.74 L510.18 59.54 L509.90 60.34 L509.56 61.14 L509.17 61.93 L508.75 62.73 L508.31 63.53 L507.85 64.33 L507.39 65.13 L506.93 65.93 L506.48 66.73 L506.04 67.53 L505.64 68.33 L505.26 69.12 L504.93 69.92 L504.64 70.72 L504.40 71.52 L504.21 72.32 L504.08 73.12 L504.01 73.92 L504.00 74.72 L504.04 75.52 L504.12 76.31 L504.25 77.11 L504.43 77.91 L504.64 78.71 L504.90 79.51 L505.19 80.31 L505.51 81.11 L505.86 81.91 L506.23 82.70 L506.62 83.50 L507.03 84.30 L507.44 85.10 L507.85 85.90 L508.26 86.70 L508.66 87.50 L509.04 88.30 L509.39 89.10 L509.72 89.89 L510.00 90.69 L510.24 91.49 L510.41 92.29 L510.50 93.09 L510.50 93.09 Z" fill="#E64B35" stroke="#111" stroke-width="0.4" stroke-linejoin="round"/>
<path d="M510.50 56.91 L510.50 56.91 L510.60 57.73 L510.80 58.55 L511.07 59.37 L511.40 60.20 L511.76 61.02 L512.17 61.84 L512.59 62.66 L513.03 63.49 L513.48 64.31 L513.93 65.13 L514.37 65.95 L514.80 66.77 L515.20 67.60 L515.58 68.42 L515.92 69.24 L516.22 70.06 L516.48 70.89 L516.69 71.71 L516.85 72.53 L516.95 73.35 L517.00 74.18 L516.99 75.00 L516.94 75.82 L516.83 76.64 L516.68 77.47 L516.48 78.29 L516.24 79.11 L515.95 79.93 L515.64 80.75 L515.29 81.58 L514.91 82.40 L514.52 83.22 L514.10 84.04 L513.68 84.87 L513.26 85.69 L512.83 86.51 L512.42 87.33 L512.03 88.16 L511.66 88.98 L511.32 89.80 L511.02 90.62 L510.77 91.45 L510.59 92.27 L510.50 93.09 L510.50 93.09 Z" fill="#4DBBD5" stroke="#111" stroke-width="0.4" stroke-linejoin="round"/>
<path d="M509.25 73.08 V76.48 M508.40 73.08 H510.10 M508.40 76.48 H510.10" stroke="#111" stroke-width="0.5" fill="none"/>
<circle cx="509.25" cy="74.78" r="0.85" fill="#111"/>
<path d="M511.75 73.28 V76.28 M510.90 73.28 H512.60 M510.90 76.28 H512.60" stroke="#111" stroke-width="0.5" fill="none"/>
<circle cx="511.75" cy="74.78" r="0.85" fill="#111"/>
<line x1="524.50" x2="524.50" y1="57.79" y2="93.81" stroke="#444" stroke-width="0.55"/>
<path d="M524.50 58.31 L524.50 58.31 L524.49 59.04 L524.45 59.77 L524.37 60.49 L524.23 61.22 L524.03 61.95 L523.76 62.67 L523.43 63.40 L523.04 64.13 L522.60 64.86 L522.12 65.58 L521.61 66.31 L521.08 67.04 L520.55 67.76 L520.04 68.49 L519.55 69.22 L519.11 69.94 L518.73 70.67 L518.42 71.40 L518.19 72.12 L518.05 72.85 L518.00 73.58 L518.03 74.31 L518.15 75.03 L518.34 75.76 L518.60 76.49 L518.92 77.21 L519.30 77.94 L519.72 78.67 L520.17 79.39 L520.65 80.12 L521.13 80.85 L521.61 81.58 L522.08 82.30 L522.53 83.03 L522.94 83.76 L523.31 84.48 L523.63 85.21 L523.90 85.94 L524.12 86.66 L524.28 87.39 L524.40 88.12 L524.46 88.84 L524.49 89.57 L524.50 90.30 L524.50 90.30 Z" fill="#E64B35" stroke="#111" stroke-width="0.4" stroke-linejoin="round"/>
<path d="M524.50 73.60 L524.50 73.60 L524.69 73.74 L524.93 73.88 L525.18 74.02 L525.45 74.16 L525.72 74.30 L526.01 74.44 L526.30 74.58 L526.60 74.72 L526.91 74.86 L527.22 75.00 L527.53 75.14 L527.85 75.28 L528.17 75.42 L528.50 75.56 L528.83 75.70 L529.16 75.84 L529.50 75.98 L529.84 76.12 L530.18 76.26 L530.53 76.40 L530.87 76.54 L530.80 76.68 L530.47 76.82 L530.14 76.96 L529.82 77.10 L529.50 77.24 L529.18 77.38 L528.86 77.52 L528.55 77.66 L528.24 77.80 L527.94 77.94 L527.64 78.08 L527.34 78.22 L527.04 78.36 L526.75 78.50 L526.47 78.64 L526.19 78.78 L525.91 78.92 L525.65 79.05 L525.39 79.19 L525.14 79.33 L524.90 79.47 L524.68 79.61 L524.50 79.75 L524.50 79.75 Z" fill="#4DBBD5" stroke="#111" stroke-width="0.4" stroke-linejoin="round"/>
<path d="M523.25 72.20 V75.60 M522.40 72.20 H524.10 M522.40 75.60 H524.10" stroke="#111" stroke-width="0.5" fill="none"/>
<circle cx="523.25" cy="73.90" r="0.85" fill="#111"/>
<path d="M525.75 75.09 V78.09 M524.90 75.09 H526.60 M524.90 78.09 H526.60" stroke="#111" stroke-width="0.5" fill="none"/>
<circle cx="525.75" cy="76.59" r="0.85" fill="#111"/>
<rect x="43.9" y="23.3" width="493.0" height="93.7" fill="none" stroke="#3a3a3a" stroke-width="1"/>
<line x1="40.9" x2="43.9" y1="108.75" y2="108.75" stroke="#333" stroke-width="0.8"/>
<text x="39.9" y="110.65" font-family='"Liberation Sans", "DejaVu Sans", sans-serif' font-size="5.1" text-anchor="end" fill="#444" class="n">-2</text>
<line x1="40.9" x2="43.9" y1="99.15" y2="99.15" stroke="#333" stroke-width="0.8"/>
<text x="39.9" y="101.05" font-family='"Liberation Sans", "DejaVu Sans", sans-serif' font-size="5.1" text-anchor="end" fill="#444" class="n">0</text>
<line x1="40.9" x2="43.9" y1="89.55" y2="89.55" stroke="#333" stroke-width="0.8"/>
<text x="39.9" y="91.45" font-family='"Liberation Sans", "DejaVu Sans", sans-serif' font-size="5.1" text-anchor="end" fill="#444" class="n">2</text>
<line x1="40.9" x2="43.9" y1="79.95" y2="79.95" stroke="#333" stroke-width="0.8"/>
<text x="39.9" y="81.85" font-family='"Liberation Sans", "DejaVu Sans", sans-serif' font-size="5.1" text-anchor="end" fill="#444" class="n">4</text>
<line x1="40.9" x2="43.9" y1="70.35" y2="70.35" stroke="#333" stroke-width="0.8"/>
<text x="39.9" y="72.25" font-family='"Liberation Sans", "DejaVu Sans", sans-serif' font-size="5.1" text-anchor="end" fill="#444" class="n">6</text>
<line x1="40.9" x2="43.9" y1="60.75" y2="60.75" stroke="#333" stroke-width="0.8"/>
<text x="39.9" y="62.65" font-family='"Liberation Sans", "DejaVu Sans", sans-serif' font-size="5.1" text-anchor="end" fill="#444" class="n">8</text>
<line x1="40.9" x2="43.9" y1="51.15" y2="51.15" stroke="#333" stroke-width="0.8"/>
<text x="39.9" y="53.05" font-family='"Liberation Sans", "DejaVu Sans", sans-serif' font-size="5.1" text-anchor="end" fill="#444" class="n">10</text>
<line x1="40.9" x2="43.9" y1="41.55" y2="41.55" stroke="#333" stroke-width="0.8"/>
<text x="39.9" y="43.45" font-family='"Liberation Sans", "DejaVu Sans", sans-serif' font-size="5.1" text-anchor="end" fill="#444" class="n">12</text>
<line x1="40.9" x2="43.9" y1="31.95" y2="31.95" stroke="#333" stroke-width="0.8"/>
<text x="39.9" y="33.85" font-family='"Liberation Sans", "DejaVu Sans", sans-serif' font-size="5.1" text-anchor="end" fill="#444" class="n">14</text>
<text transform="translate(32.9,70.4) rotate(-90)" font-family='"Liberation Serif", "DejaVu Serif", serif' font-size="7.6" text-anchor="middle" fill="#222">WWP1 Expression</text>
<line x1="56.50" x2="56.50" y1="117.0" y2="119.8" stroke="#333" stroke-width="0.8"/>
<text transform="translate(63.50,124.20) rotate(-45)" font-family='"Liberation Serif", "DejaVu Serif", serif' font-size="7.4" text-anchor="end" fill="#111">GBM(T=153,N=1157)</text>
<text x="57.10" y="30.0" font-family='"Liberation Sans", "DejaVu Sans", sans-serif' font-size="5.5" text-anchor="middle" fill="#666">-</text>
<line x1="70.50" x2="70.50" y1="117.0" y2="119.8" stroke="#333" stroke-width="0.8"/>
<text transform="translate(77.50,124.20) rotate(-45)" font-family='"Liberation Serif", "DejaVu Serif", serif' font-size="7.4" text-anchor="end" fill="#111">GBMLGG(T=662,N=1157)</text>
<text x="71.40" y="31.9" font-family='"Liberation Sans", "DejaVu Sans", sans-serif' font-size="7" font-weight="bold" text-anchor="middle" fill="#333" letter-spacing="0.12" class="n">**</text>
<line x1="84.50" x2="84.50" y1="117.0" y2="119.8" stroke="#333" stroke-width="0.8"/>
<text transform="translate(91.50,124.20) rotate(-45)" font-family='"Liberation Serif", "DejaVu Serif", serif' font-size="7.4" text-anchor="end" fill="#111">LGG(T=509,N=1157)</text>
<text x="86.20" y="31.9" font-family='"Liberation Sans", "DejaVu Sans", sans-serif' font-size="7" font-weight="bold" text-anchor="middle" fill="#333" letter-spacing="0.12" class="n">****</text>
<line x1="98.50" x2="98.50" y1="117.0" y2="119.8" stroke="#333" stroke-width="0.8"/>
<text transform="translate(105.50,124.20) rotate(-45)" font-family='"Liberation Serif", "DejaVu Serif", serif' font-size="7.4" text-anchor="end" fill="#111">UCEC(T=180,N=23)</text>
<text x="99.40" y="31.9" font-family='"Liberation Sans", "DejaVu Sans", sans-serif' font-size="7" font-weight="bold" text-anchor="middle" fill="#333" letter-spacing="0.12" class="n">**</text>
<line x1="112.50" x2="112.50" y1="117.0" y2="119.8" stroke="#333" stroke-width="0.8"/>
<text transform="translate(119.50,124.20) rotate(-45)" font-family='"Liberation Serif", "DejaVu Serif", serif' font-size="7.4" text-anchor="end" fill="#111">BRCA(T=1092,N=292)</text>
<text x="114.20" y="31.9" font-family='"Liberation Sans", "DejaVu Sans", sans-serif' font-size="7" font-weight="bold" text-anchor="middle" fill="#333" letter-spacing="0.12" class="n">****</text>
<line x1="127.50" x2="127.50" y1="117.0" y2="119.8" stroke="#333" stroke-width="0.8"/>
<text transform="translate(134.50,124.20) rotate(-45)" font-family='"Liberation Serif", "DejaVu Serif", serif' font-size="7.4" text-anchor="end" fill="#111">CESC(T=304,N=13)</text>
<text x="128.10" y="30.0" font-family='"Liberation Sans", "DejaVu Sans", sans-serif' font-size="5.5" text-anchor="middle" fill="#666">-</text>
<line x1="141.50" x2="141.50" y1="117.0" y2="119.8" stroke="#333" stroke-width="0.8"/>
<text transform="translate(148.50,124.20) rotate(-45)" font-family='"Liberation Serif", "DejaVu Serif", serif' font-size="7.4" text-anchor="end" fill="#111">LUAD(T=513,N=397)</text>
<text x="142.40" y="31.9" font-family='"Liberation Sans", "DejaVu Sans", sans-serif' font-size="7" font-weight="bold" text-anchor="middle" fill="#333" letter-spacing="0.12" class="n">*</text>
<line x1="155.50" x2="155.50" y1="117.0" y2="119.8" stroke="#333" stroke-width="0.8"/>
<text transform="translate(162.50,124.20) rotate(-45)" font-family='"Liberation Serif", "DejaVu Serif", serif' font-size="7.4" text-anchor="end" fill="#111">ESCA(T=181,N=668)</text>
<text x="157.20" y="31.9" font-family='"Liberation Sans", "DejaVu Sans", sans-serif' font-size="7" font-weight="bold" text-anchor="middle" fill="#333" letter-spacing="0.12" class="n">****</text>
<line x1="169.50" x2="169.50" y1="117.0" y2="119.8" stroke="#333" stroke-width="0.8"/>
<text transform="translate(176.50,124.20) rotate(-45)" font-family='"Liberation Serif", "DejaVu Serif", serif' font-size="7.4" text-anchor="end" fill="#111">STES(T=595,N=879)</text>
<text x="171.20" y="31.9" font-family='"Liberation Sans", "DejaVu Sans", sans-serif' font-size="7" font-weight="bold" text-anchor="middle" fill="#333" letter-spacing="0.12" class="n">****</text>
<line x1="183.50" x2="183.50" y1="117.0" y2="119.8" stroke="#333" stroke-width="0.8"/>
<text transform="translate(190.50,124.20) rotate(-45)" font-family='"Liberation Serif", "DejaVu Serif", serif' font-size="7.4" text-anchor="end" fill="#111">KIRP(T=288,N=168)</text>
<text x="185.20" y="31.9" font-family='"Liberation Sans", "DejaVu Sans", sans-serif' font-size="7" font-weight="bold" text-anchor="middle" fill="#333" letter-spacing="0.12" class="n">****</text>
<line x1="198.50" x2="198.50" y1="117.0" y2="119.8" stroke="#333" stroke-width="0.8"/>
<text transform="translate(205.50,124.20) rotate(-45)" font-family='"Liberation Serif", "DejaVu Serif", serif' font-size="7.4" text-anchor="end" fill="#111">KIPAN(T=884,N=168)</text>
<text x="200.20" y="31.9" font-family='"Liberation Sans", "DejaVu Sans", sans-serif' font-size="7" font-weight="bold" text-anchor="middle" fill="#333" letter-spacing="0.12" class="n">****</text>
<line x1="212.50" x2="212.50" y1="117.0" y2="119.8" stroke="#333" stroke-width="0.8"/>
<text transform="translate(219.50,124.20) rotate(-45)" font-family='"Liberation Serif", "DejaVu Serif", serif' font-size="7.4" text-anchor="end" fill="#111">COAD(T=288,N=349)</text>
<text x="214.20" y="31.9" font-family='"Liberation Sans", "DejaVu Sans", sans-serif' font-size="7" font-weight="bold" text-anchor="middle" fill="#333" letter-spacing="0.12" class="n">****</text>
<line x1="226.50" x2="226.50" y1="117.0" y2="119.8" stroke="#333" stroke-width="0.8"/>
<text transform="translate(233.50,124.20) rotate(-45)" font-family='"Liberation Serif", "DejaVu Serif", serif' font-size="7.4" text-anchor="end" fill="#111">COADREAD(T=380,N=359)</text>
<text x="228.20" y="31.9" font-family='"Liberation Sans", "DejaVu Sans", sans-serif' font-size="7" font-weight="bold" text-anchor="middle" fill="#333" letter-spacing="0.12" class="n">****</text>
<line x1="240.50" x2="240.50" y1="117.0" y2="119.8" stroke="#333" stroke-width="0.8"/>
<text transform="translate(247.50,124.20) rotate(-45)" font-family='"Liberation Serif", "DejaVu Serif", serif' font-size="7.4" text-anchor="end" fill="#111">PRAD(T=495,N=152)</text>
<text x="242.20" y="31.9" font-family='"Liberation Sans", "DejaVu Sans", sans-serif' font-size="7" font-weight="bold" text-anchor="middle" fill="#333" letter-spacing="0.12" class="n">****</text>
<line x1="254.50" x2="254.50" y1="117.0" y2="119.8" stroke="#333" stroke-width="0.8"/>
<text transform="translate(261.50,124.20) rotate(-45)" font-family='"Liberation Serif", "DejaVu Serif", serif' font-size="7.4" text-anchor="end" fill="#111">STAD(T=414,N=211)</text>
<text x="256.20" y="31.9" font-family='"Liberation Sans", "DejaVu Sans", sans-serif' font-size="7" font-weight="bold" text-anchor="middle" fill="#333" letter-spacing="0.12" class="n">****</text>
<line x1="269.50" x2="269.50" y1="117.0" y2="119.8" stroke="#333" stroke-width="0.8"/>
<text transform="translate(276.50,124.20) rotate(-45)" font-family='"Liberation Serif", "DejaVu Serif", serif' font-size="7.4" text-anchor="end" fill="#111">HNSC(T=518,N=44)</text>
<text x="270.10" y="30.0" font-family='"Liberation Sans", "DejaVu Sans", sans-serif' font-size="5.5" text-anchor="middle" fill="#666">-</text>
<line x1="283.50" x2="283.50" y1="117.0" y2="119.8" stroke="#333" stroke-width="0.8"/>
<text transform="translate(290.50,124.20) rotate(-45)" font-family='"Liberation Serif", "DejaVu Serif", serif' font-size="7.4" text-anchor="end" fill="#111">KIRC(T=530,N=168)</text>
<text x="285.20" y="31.9" font-family='"Liberation Sans", "DejaVu Sans", sans-serif' font-size="7" font-weight="bold" text-anchor="middle" fill="#333" letter-spacing="0.12" class="n">****</text>
<line x1="297.50" x2="297.50" y1="117.0" y2="119.8" stroke="#333" stroke-width="0.8"/>
<text transform="translate(304.50,124.20) rotate(-45)" font-family='"Liberation Serif", "DejaVu Serif", serif' font-size="7.4" text-anchor="end" fill="#111">LUSC(T=498,N=397)</text>
<text x="298.40" y="31.9" font-family='"Liberation Sans", "DejaVu Sans", sans-serif' font-size="7" font-weight="bold" text-anchor="middle" fill="#333" letter-spacing="0.12" class="n">**</text>
<line x1="311.50" x2="311.50" y1="117.0" y2="119.8" stroke="#333" stroke-width="0.8"/>
<text transform="translate(318.50,124.20) rotate(-45)" font-family='"Liberation Serif", "DejaVu Serif", serif' font-size="7.4" text-anchor="end" fill="#111">LIHC(T=369,N=160)</text>
<text x="313.20" y="31.9" font-family='"Liberation Sans", "DejaVu Sans", sans-serif' font-size="7" font-weight="bold" text-anchor="middle" fill="#333" letter-spacing="0.12" class="n">****</text>
<line x1="325.50" x2="325.50" y1="117.0" y2="119.8" stroke="#333" stroke-width="0.8"/>
<text transform="translate(332.50,124.20) rotate(-45)" font-family='"Liberation Serif", "DejaVu Serif", serif' font-size="7.4" text-anchor="end" fill="#111">WT(T=120,N=168)</text>
<text x="327.20" y="31.9" font-family='"Liberation Sans", "DejaVu Sans", sans-serif' font-size="7" font-weight="bold" text-anchor="middle" fill="#333" letter-spacing="0.12" class="n">****</text>
<line x1="340.50" x2="340.50" y1="117.0" y2="119.8" stroke="#333" stroke-width="0.8"/>
<text transform="translate(347.50,124.20) rotate(-45)" font-family='"Liberation Serif", "DejaVu Serif", serif' font-size="7.4" text-anchor="end" fill="#111">SKCM(T=102,N=558)</text>
<text x="342.20" y="31.9" font-family='"Liberation Sans", "DejaVu Sans", sans-serif' font-size="7" font-weight="bold" text-anchor="middle" fill="#333" letter-spacing="0.12" class="n">****</text>
<line x1="354.50" x2="354.50" y1="117.0" y2="119.8" stroke="#333" stroke-width="0.8"/>
<text transform="translate(361.50,124.20) rotate(-45)" font-family='"Liberation Serif", "DejaVu Serif", serif' font-size="7.4" text-anchor="end" fill="#111">BLCA(T=407,N=28)</text>
<text x="356.20" y="31.9" font-family='"Liberation Sans", "DejaVu Sans", sans-serif' font-size="7" font-weight="bold" text-anchor="middle" fill="#333" letter-spacing="0.12" class="n">****</text>
<line x1="368.50" x2="368.50" y1="117.0" y2="119.8" stroke="#333" stroke-width="0.8"/>
<text transform="translate(375.50,124.20) rotate(-45)" font-family='"Liberation Serif", "DejaVu Serif", serif' font-size="7.4" text-anchor="end" fill="#111">THCA(T=504,N=338)</text>
<text x="370.20" y="31.9" font-family='"Liberation Sans", "DejaVu Sans", sans-serif' font-size="7" font-weight="bold" text-anchor="middle" fill="#333" letter-spacing="0.12" class="n">****</text>
<line x1="382.50" x2="382.50" y1="117.0" y2="119.8" stroke="#333" stroke-width="0.8"/>
<text transform="translate(389.50,124.20) rotate(-45)" font-family='"Liberation Serif", "DejaVu Serif", serif' font-size="7.4" text-anchor="end" fill="#111">READ(T=92,N=10)</text>
<text x="383.10" y="30.0" font-family='"Liberation Sans", "DejaVu Sans", sans-serif' font-size="5.5" text-anchor="middle" fill="#666">-</text>
<line x1="396.50" x2="396.50" y1="117.0" y2="119.8" stroke="#333" stroke-width="0.8"/>
<text transform="translate(403.50,124.20) rotate(-45)" font-family='"Liberation Serif", "DejaVu Serif", serif' font-size="7.4" text-anchor="end" fill="#111">OV(T=419,N=88)</text>
<text x="398.20" y="31.9" font-family='"Liberation Sans", "DejaVu Sans", sans-serif' font-size="7" font-weight="bold" text-anchor="middle" fill="#333" letter-spacing="0.12" class="n">****</text>
<line x1="410.50" x2="410.50" y1="117.0" y2="119.8" stroke="#333" stroke-width="0.8"/>
<text transform="translate(417.50,124.20) rotate(-45)" font-family='"Liberation Serif", "DejaVu Serif", serif' font-size="7.4" text-anchor="end" fill="#111">PAAD(T=178,N=171)</text>
<text x="412.20" y="31.9" font-family='"Liberation Sans", "DejaVu Sans", sans-serif' font-size="7" font-weight="bold" text-anchor="middle" fill="#333" letter-spacing="0.12" class="n">****</text>
<line x1="425.50" x2="425.50" y1="117.0" y2="119.8" stroke="#333" stroke-width="0.8"/>
<text transform="translate(432.50,124.20) rotate(-45)" font-family='"Liberation Serif", "DejaVu Serif", serif' font-size="7.4" text-anchor="end" fill="#111">TGCT(T=148,N=165)</text>
<text x="426.10" y="30.0" font-family='"Liberation Sans", "DejaVu Sans", sans-serif' font-size="5.5" text-anchor="middle" fill="#666">-</text>
<line x1="439.50" x2="439.50" y1="117.0" y2="119.8" stroke="#333" stroke-width="0.8"/>
<text transform="translate(446.50,124.20) rotate(-45)" font-family='"Liberation Serif", "DejaVu Serif", serif' font-size="7.4" text-anchor="end" fill="#111">UCS(T=57,N=78)</text>
<text x="441.20" y="31.9" font-family='"Liberation Sans", "DejaVu Sans", sans-serif' font-size="7" font-weight="bold" text-anchor="middle" fill="#333" letter-spacing="0.12" class="n">****</text>
<line x1="453.50" x2="453.50" y1="117.0" y2="119.8" stroke="#333" stroke-width="0.8"/>
<text transform="translate(460.50,124.20) rotate(-45)" font-family='"Liberation Serif", "DejaVu Serif", serif' font-size="7.4" text-anchor="end" fill="#111">ALL(T=132,N=337)</text>
<text x="455.20" y="31.9" font-family='"Liberation Sans", "DejaVu Sans", sans-serif' font-size="7" font-weight="bold" text-anchor="middle" fill="#333" letter-spacing="0.12" class="n">****</text>
<line x1="467.50" x2="467.50" y1="117.0" y2="119.8" stroke="#333" stroke-width="0.8"/>
<text transform="translate(474.50,124.20) rotate(-45)" font-family='"Liberation Serif", "DejaVu Serif", serif' font-size="7.4" text-anchor="end" fill="#111">LAML(T=173,N=337)</text>
<text x="469.20" y="31.9" font-family='"Liberation Sans", "DejaVu Sans", sans-serif' font-size="7" font-weight="bold" text-anchor="middle" fill="#333" letter-spacing="0.12" class="n">****</text>
<line x1="481.50" x2="481.50" y1="117.0" y2="119.8" stroke="#333" stroke-width="0.8"/>
<text transform="translate(488.50,124.20) rotate(-45)" font-family='"Liberation Serif", "DejaVu Serif", serif' font-size="7.4" text-anchor="end" fill="#111">PCPG(T=177,N=3)</text>
<text x="482.10" y="30.0" font-family='"Liberation Sans", "DejaVu Sans", sans-serif' font-size="5.5" text-anchor="middle" fill="#666">-</text>
<line x1="496.50" x2="496.50" y1="117.0" y2="119.8" stroke="#333" stroke-width="0.8"/>
<text transform="translate(503.50,124.20) rotate(-45)" font-family='"Liberation Serif", "DejaVu Serif", serif' font-size="7.4" text-anchor="end" fill="#111">ACC(T=77,N=128)</text>
<text x="497.40" y="31.9" font-family='"Liberation Sans", "DejaVu Sans", sans-serif' font-size="7" font-weight="bold" text-anchor="middle" fill="#333" letter-spacing="0.12" class="n">*</text>
<line x1="510.50" x2="510.50" y1="117.0" y2="119.8" stroke="#333" stroke-width="0.8"/>
<text transform="translate(517.50,124.20) rotate(-45)" font-family='"Liberation Serif", "DejaVu Serif", serif' font-size="7.4" text-anchor="end" fill="#111">KICH(T=66,N=168)</text>
<text x="511.10" y="30.0" font-family='"Liberation Sans", "DejaVu Sans", sans-serif' font-size="5.5" text-anchor="middle" fill="#666">-</text>
<line x1="524.50" x2="524.50" y1="117.0" y2="119.8" stroke="#333" stroke-width="0.8"/>
<text transform="translate(531.50,124.20) rotate(-45)" font-family='"Liberation Serif", "DejaVu Serif", serif' font-size="7.4" text-anchor="end" fill="#111">CHOL(T=36,N=9)</text>
<text x="525.10" y="30.0" font-family='"Liberation Sans", "DejaVu Sans", sans-serif' font-size="5.5" text-anchor="middle" fill="#666">-</text>
<text x="538.6" y="63.4" font-family='"Liberation Serif", "DejaVu Serif", serif' font-size="7.5" fill="#111">Group</text>
<rect x="538.9" y="69.1" width="4.6" height="4.6" fill="#E64B35"/>
<text x="546.0" y="74.0" font-family='"Liberation Serif", "DejaVu Serif", serif' font-size="7.5" fill="#E64B35" class="r">Tumor</text>
<rect x="538.9" y="78.6" width="4.6" height="4.6" fill="#4DBBD5"/>
<text x="546.0" y="83.6" font-family='"Liberation Serif", "DejaVu Serif", serif' font-size="7.5" fill="#4DBBD5" class="b">Normal</text>
<text x="13.6" y="19.1" font-family='"Liberation Serif", "DejaVu Serif", serif' font-size="13.4" fill="#111">A</text>
</g>
<g id="pB">
<text x="58.2" y="207.8" font-family='"Liberation Serif", "DejaVu Serif", serif' font-size="13.3" fill="#111">B</text>
<text x="117.8" y="239.9" font-family='"Liberation Serif", "DejaVu Serif", serif' font-size="10.2" text-anchor="middle" fill="#111">1</text>
<line x1="106.9" x2="128.1" y1="244.3" y2="244.3" stroke="#111" stroke-width="1.3"/>
<text x="148.3" y="239.9" font-family='"Liberation Serif", "DejaVu Serif", serif' font-size="10.2" text-anchor="middle" fill="#111">2</text>
<line x1="138.9" x2="159.8" y1="244.3" y2="244.3" stroke="#111" stroke-width="1.3"/>
<text x="179.8" y="239.9" font-family='"Liberation Serif", "DejaVu Serif", serif' font-size="10.2" text-anchor="middle" fill="#111">3</text>
<line x1="169.8" x2="190.4" y1="244.3" y2="244.3" stroke="#111" stroke-width="1.3"/>
<text x="211.1" y="239.9" font-family='"Liberation Serif", "DejaVu Serif", serif' font-size="10.2" text-anchor="middle" fill="#111">4</text>
<line x1="201.3" x2="221.9" y1="244.3" y2="244.3" stroke="#111" stroke-width="1.3"/>
<text x="242.8" y="239.9" font-family='"Liberation Serif", "DejaVu Serif", serif' font-size="10.2" text-anchor="middle" fill="#111">5</text>
<line x1="232.3" x2="252.9" y1="244.3" y2="244.3" stroke="#111" stroke-width="1.3"/>
<text x="273.8" y="239.9" font-family='"Liberation Serif", "DejaVu Serif", serif' font-size="10.2" text-anchor="middle" fill="#111">6</text>
<line x1="263.3" x2="283.9" y1="244.3" y2="244.3" stroke="#111" stroke-width="1.3"/>
<text x="111.4" y="258.2" font-family='"Liberation Serif", "DejaVu Serif", serif' font-size="9.9" text-anchor="middle" fill="#111">M</text>
<text x="125.4" y="258.2" font-family='"Liberation Serif", "DejaVu Serif", serif' font-size="9.9" text-anchor="middle" fill="#111">N</text>
<text x="140.1" y="258.2" font-family='"Liberation Serif", "DejaVu Serif", serif' font-size="9.9" text-anchor="middle" fill="#111">M</text>
<text x="157.4" y="258.2" font-family='"Liberation Serif", "DejaVu Serif", serif' font-size="9.9" text-anchor="middle" fill="#111">N</text>
<text x="171.6" y="258.2" font-family='"Liberation Serif", "DejaVu Serif", serif' font-size="9.9" text-anchor="middle" fill="#111">M</text>
<text x="186.2" y="258.2" font-family='"Liberation Serif", "DejaVu Serif", serif' font-size="9.9" text-anchor="middle" fill="#111">N</text>
<text x="202.7" y="258.2" font-family='"Liberation Serif", "DejaVu Serif", serif' font-size="9.9" text-anchor="middle" fill="#111">M</text>
<text x="217.5" y="258.2" font-family='"Liberation Serif", "DejaVu Serif", serif' font-size="9.9" text-anchor="middle" fill="#111">N</text>
<text x="234.5" y="258.2" font-family='"Liberation Serif", "DejaVu Serif", serif' font-size="9.9" text-anchor="middle" fill="#111">M</text>
<text x="248.7" y="258.2" font-family='"Liberation Serif", "DejaVu Serif", serif' font-size="9.9" text-anchor="middle" fill="#111">N</text>
<text x="263.3" y="258.2" font-family='"Liberation Serif", "DejaVu Serif", serif' font-size="9.9" text-anchor="middle" fill="#111">M</text>
<text x="280.7" y="258.2" font-family='"Liberation Serif", "DejaVu Serif", serif' font-size="9.9" text-anchor="middle" fill="#111">N</text>
<text x="67.4" y="282.3" font-family='"Liberation Serif", "DejaVu Serif", serif' font-size="11.2" textLength="29.2" lengthAdjust="spacingAndGlyphs" fill="#111">WWP1</text>
<text x="60.6" y="310.7" font-family='"Liberation Serif", "DejaVu Serif", serif' font-size="11.2" textLength="36.0" lengthAdjust="spacingAndGlyphs" fill="#111">GAPDH</text>
<rect x="100.3" y="265.7" width="189.0" height="25.5" fill="#fff" stroke="#111" stroke-width="1.4"/>
<rect x="100.3" y="294.0" width="189.0" height="25.4" fill="#fff" stroke="#111" stroke-width="1.4"/>
<rect x="105.6" y="276.95" width="10.4" height="1.5" rx="0.6" fill="#777" filter="url(#b04)"/>
<rect x="105.9" y="279.80" width="10" height="5.5" fill="#f5f5f5" filter="url(#b04)"/>
<rect x="135.5" y="276.95" width="10.4" height="1.5" rx="0.6" fill="#888" filter="url(#b04)"/>
<rect x="135.8" y="279.80" width="10" height="5.5" fill="#f5f5f5" filter="url(#b04)"/>
<rect x="166.1" y="276.95" width="10.4" height="1.5" rx="0.6" fill="#999" filter="url(#b04)"/>
<rect x="166.4" y="279.80" width="10" height="5.5" fill="#f5f5f5" filter="url(#b04)"/>
<rect x="197.0" y="276.95" width="10.4" height="1.5" rx="0.6" fill="#888" filter="url(#b04)"/>
<rect x="197.3" y="279.80" width="10" height="5.5" fill="#f5f5f5" filter="url(#b04)"/>
<rect x="227.8" y="276.95" width="10.4" height="1.5" rx="0.6" fill="#888" filter="url(#b04)"/>
<rect x="228.1" y="279.80" width="10" height="5.5" fill="#f5f5f5" filter="url(#b04)"/>
<rect x="257.9" y="276.25" width="10.4" height="1.5" rx="0.6" fill="#222" filter="url(#b04)"/>
<rect x="258.2" y="279.10" width="10" height="5.5" fill="#f5f5f5" filter="url(#b04)"/>
<rect x="104.6" y="304.25" width="12.0" height="2.7" rx="1.5" fill="#050505" filter="url(#b05)" transform="rotate(5 110.6 305.6)"/>
<rect x="119.9" y="305.55" width="12.0" height="2.7" rx="1.5" fill="#050505" filter="url(#b05)" transform="rotate(-1 125.9 306.9)"/>
<rect x="135.2" y="305.65" width="12.0" height="2.7" rx="1.5" fill="#050505" filter="url(#b05)" transform="rotate(-1 141.2 307.0)"/>
<rect x="150.5" y="305.45" width="12.0" height="2.7" rx="1.5" fill="#050505" filter="url(#b05)" transform="rotate(1 156.5 306.8)"/>
<rect x="165.8" y="304.55" width="12.0" height="2.7" rx="1.5" fill="#050505" filter="url(#b05)" transform="rotate(-5 171.8 305.9)"/>
<rect x="181.1" y="304.65" width="12.0" height="2.7" rx="1.5" fill="#050505" filter="url(#b05)" transform="rotate(-1 187.1 306.0)"/>
<rect x="196.4" y="304.45" width="12.0" height="2.7" rx="1.5" fill="#050505" filter="url(#b05)" transform="rotate(4 202.4 305.8)"/>
<rect x="211.7" y="304.85" width="12.0" height="2.7" rx="1.5" fill="#050505" filter="url(#b05)" transform="rotate(-3 217.7 306.2)"/>
<rect x="227.0" y="304.95" width="12.0" height="2.7" rx="1.5" fill="#050505" filter="url(#b05)" transform="rotate(2 233.0 306.3)"/>
<rect x="242.3" y="305.35" width="12.0" height="2.7" rx="1.5" fill="#050505" filter="url(#b05)" transform="rotate(1 248.3 306.7)"/>
<rect x="258.4" y="306.00" width="10.4" height="2.0" rx="1.5" fill="#333" filter="url(#b05)" transform="rotate(-2 263.6 307.0)"/>
<rect x="273.7" y="305.40" width="10.4" height="2.0" rx="1.5" fill="#333" filter="url(#b05)" transform="rotate(-5 278.9 306.4)"/>
</g>
<g id="pC">
<text x="353.0" y="206.5" font-family='"Liberation Serif", "DejaVu Serif", serif' font-size="13.3" fill="#111">C</text>
<line x1="415.4" x2="415.4" y1="205.0" y2="313.4" stroke="#111" stroke-width="1.3"/>
<line x1="414.9" x2="487.6" y1="312.9" y2="312.9" stroke="#111" stroke-width="1.3"/>
<line x1="411.4" x2="415.4" y1="312.90" y2="312.90" stroke="#111" stroke-width="1.3"/>
<text x="410.4" y="315.80" font-family='"Liberation Sans", "DejaVu Sans", sans-serif' font-size="8.3" text-anchor="end" fill="#111">0.0</text>
<line x1="411.4" x2="415.4" y1="286.05" y2="286.05" stroke="#111" stroke-width="1.3"/>
<text x="410.4" y="288.95" font-family='"Liberation Sans", "DejaVu Sans", sans-serif' font-size="8.3" text-anchor="end" fill="#111">0.2</text>
<line x1="411.4" x2="415.4" y1="259.20" y2="259.20" stroke="#111" stroke-width="1.3"/>
<text x="410.4" y="262.10" font-family='"Liberation Sans", "DejaVu Sans", sans-serif' font-size="8.3" text-anchor="end" fill="#111">0.4</text>
<line x1="411.4" x2="415.4" y1="232.35" y2="232.35" stroke="#111" stroke-width="1.3"/>
<text x="410.4" y="235.25" font-family='"Liberation Sans", "DejaVu Sans", sans-serif' font-size="8.3" text-anchor="end" fill="#111">0.6</text>
<line x1="411.4" x2="415.4" y1="205.50" y2="205.50" stroke="#111" stroke-width="1.3"/>
<text x="410.4" y="208.40" font-family='"Liberation Sans", "DejaVu Sans", sans-serif' font-size="8.3" text-anchor="end" fill="#111">0.8</text>
<rect x="425.8" y="265.1" width="20.5" height="47.8" fill="#000"/>
<line x1="436.1" x2="436.1" y1="234.2" y2="266" stroke="#222" stroke-width="0.8"/>
<line x1="430.6" x2="441.8" y1="234.2" y2="234.2" stroke="#222" stroke-width="0.8"/>
<line x1="432" x2="472.2" y1="227.4" y2="227.4" stroke="#777" stroke-width="0.9"/>
<text x="450.2" y="227.4" font-family='"Liberation Sans", "DejaVu Sans", sans-serif' font-size="10" font-weight="bold" text-anchor="middle" fill="#111">**</text>
<line x1="436.2" x2="436.2" y1="312.9" y2="317.2" stroke="#111" stroke-width="1.3"/>
<text x="436.2" y="326.2" font-family='"Liberation Sans", "DejaVu Sans", sans-serif' font-size="8.3" text-anchor="middle" fill="#111">T</text>
<line x1="467.1" x2="467.1" y1="312.9" y2="317.2" stroke="#111" stroke-width="1.3"/>
<text x="467.1" y="326.2" font-family='"Liberation Sans", "DejaVu Sans", sans-serif' font-size="8.3" text-anchor="middle" fill="#111">M</text>
<text transform="translate(385.0,259.8) rotate(-90)" font-family='"Liberation Sans", "DejaVu Sans", sans-serif' font-size="7.5" text-anchor="middle" textLength="90.8" lengthAdjust="spacing" fill="#111">Relative WWP1 protein level</text>
<text transform="translate(394.2,259.8) rotate(-90)" font-family='"Liberation Sans", "DejaVu Sans", sans-serif' font-size="7.5" text-anchor="middle" fill="#111">normalized to GAPDH</text>
</g>
<g id="pD">
<text x="57.4" y="375.9" font-family='"Liberation Serif", "DejaVu Serif", serif' font-size="13.3" fill="#111">D</text>
<text x="121.2" y="406.7" font-family='"Liberation Serif", "DejaVu Serif", serif' font-size="10.4" text-anchor="middle" fill="#111">1</text>
<line x1="110.9" x2="131.5" y1="409.7" y2="409.7" stroke="#111" stroke-width="1.3"/>
<text x="156.1" y="406.7" font-family='"Liberation Serif", "DejaVu Serif", serif' font-size="10.4" text-anchor="middle" fill="#111">2</text>
<line x1="145.8" x2="166.7" y1="409.7" y2="409.7" stroke="#111" stroke-width="1.3"/>
<text x="190.9" y="406.7" font-family='"Liberation Serif", "DejaVu Serif", serif' font-size="10.4" text-anchor="middle" fill="#111">3</text>
<line x1="179.8" x2="200.8" y1="409.7" y2="409.7" stroke="#111" stroke-width="1.3"/>
<text x="227.3" y="406.7" font-family='"Liberation Serif", "DejaVu Serif", serif' font-size="10.4" text-anchor="middle" fill="#111">4</text>
<line x1="216.3" x2="237.2" y1="409.7" y2="409.7" stroke="#111" stroke-width="1.3"/>
<text x="265.5" y="406.7" font-family='"Liberation Serif", "DejaVu Serif", serif' font-size="10.4" text-anchor="middle" fill="#111">5</text>
<line x1="254.9" x2="275.8" y1="409.7" y2="409.7" stroke="#111" stroke-width="1.3"/>
<text x="113.1" y="426.2" font-family='"Liberation Serif", "DejaVu Serif", serif' font-size="10.1" text-anchor="middle" fill="#111">M</text>
<text x="129.1" y="426.2" font-family='"Liberation Serif", "DejaVu Serif", serif' font-size="10.1" text-anchor="middle" fill="#111">T</text>
<text x="147.5" y="426.2" font-family='"Liberation Serif", "DejaVu Serif", serif' font-size="10.1" text-anchor="middle" fill="#111">M</text>
<text x="163.0" y="426.2" font-family='"Liberation Serif", "DejaVu Serif", serif' font-size="10.1" text-anchor="middle" fill="#111">T</text>
<text x="181.6" y="426.2" font-family='"Liberation Serif", "DejaVu Serif", serif' font-size="10.1" text-anchor="middle" fill="#111">M</text>
<text x="200.0" y="426.2" font-family='"Liberation Serif", "DejaVu Serif", serif' font-size="10.1" text-anchor="middle" fill="#111">T</text>
<text x="218.5" y="426.2" font-family='"Liberation Serif", "DejaVu Serif", serif' font-size="10.1" text-anchor="middle" fill="#111">M</text>
<text x="236.9" y="426.2" font-family='"Liberation Serif", "DejaVu Serif", serif' font-size="10.1" text-anchor="middle" fill="#111">T</text>
<text x="254.9" y="426.2" font-family='"Liberation Serif", "DejaVu Serif", serif' font-size="10.1" text-anchor="middle" fill="#111">M</text>
<text x="273.8" y="426.2" font-family='"Liberation Serif", "DejaVu Serif", serif' font-size="10.1" text-anchor="middle" fill="#111">T</text>
<text x="67.4" y="449.4" font-family='"Liberation Serif", "DejaVu Serif", serif' font-size="11.2" textLength="29.4" lengthAdjust="spacingAndGlyphs" fill="#111">WWP1</text>
<text x="60.6" y="477.2" font-family='"Liberation Serif", "DejaVu Serif", serif' font-size="11.2" textLength="36.2" lengthAdjust="spacingAndGlyphs" fill="#111">GAPDH</text>
<rect x="99.6" y="431.3" width="188.6" height="26.0" fill="url(#bgD)" stroke="#111" stroke-width="1.4"/>
<rect x="99.6" y="459.9" width="188.6" height="25.5" fill="url(#bgD2)" stroke="#111" stroke-width="1.4"/>
<rect x="104.5" y="433.4" width="11.8" height="15.3" fill="url(#smear)" opacity="0.42" filter="url(#b07)"/>
<rect x="104.2" y="446.65" width="12.4" height="3.9" rx="1.9" fill="#0a0a0a" opacity="0.5" filter="url(#b07)"/>
<rect x="104.6" y="447.10" width="11.6" height="3.4" rx="1.9" fill="#0a0a0a" filter="url(#b04)"/>
<rect x="122.6" y="433.4" width="11.1" height="15.2" fill="url(#smear)" opacity="0.22" filter="url(#b07)"/>
<rect x="122.3" y="447.30" width="11.7" height="2.4" rx="1.1" fill="#3a3a3a" opacity="0.5" filter="url(#b07)"/>
<rect x="122.7" y="447.75" width="10.9" height="1.9" rx="1.1" fill="#3a3a3a" filter="url(#b04)"/>
<rect x="140.1" y="433.4" width="12.1" height="14.5" fill="url(#smear)" opacity="0.42" filter="url(#b07)"/>
<rect x="139.8" y="445.80" width="12.7" height="4.0" rx="1.9" fill="#050505" opacity="0.5" filter="url(#b07)"/>
<rect x="140.2" y="446.25" width="11.9" height="3.5" rx="1.9" fill="#050505" filter="url(#b04)"/>
<rect x="158.6" y="433.4" width="11.1" height="15.2" fill="url(#smear)" opacity="0.24" filter="url(#b07)"/>
<rect x="158.3" y="447.15" width="11.7" height="2.7" rx="1.2" fill="#2a2a2a" opacity="0.5" filter="url(#b07)"/>
<rect x="158.7" y="447.60" width="10.9" height="2.2" rx="1.2" fill="#2a2a2a" filter="url(#b04)"/>
<rect x="176.5" y="433.4" width="12.6" height="14.0" fill="url(#smear)" opacity="0.36" filter="url(#b07)"/>
<rect x="176.2" y="445.45" width="13.2" height="3.7" rx="1.8" fill="#050505" opacity="0.5" filter="url(#b07)"/>
<rect x="176.6" y="445.90" width="12.4" height="3.2" rx="1.8" fill="#050505" filter="url(#b04)"/>
<rect x="194.9" y="446.50" width="12.7" height="2.6" rx="1.2" fill="#444" opacity="0.5" filter="url(#b07)"/>
<rect x="195.3" y="446.95" width="11.9" height="2.1" rx="1.2" fill="#444" filter="url(#b04)"/>
<rect x="214.0" y="433.4" width="12.6" height="13.6" fill="url(#smear)" opacity="0.10" filter="url(#b07)"/>
<rect x="213.7" y="445.45" width="13.2" height="2.9" rx="1.4" fill="#444" opacity="0.5" filter="url(#b07)"/>
<rect x="214.1" y="445.90" width="12.4" height="2.4" rx="1.4" fill="#444" filter="url(#b04)"/>
<rect x="233.0" y="445.95" width="12.2" height="1.9" rx="0.8" fill="#777" opacity="0.5" filter="url(#b07)"/>
<rect x="233.4" y="446.40" width="11.4" height="1.4" rx="0.8" fill="#777" filter="url(#b04)"/>
<rect x="251.7" y="433.4" width="12.3" height="13.4" fill="url(#smear)" opacity="0.04" filter="url(#b07)"/>
<rect x="251.4" y="445.25" width="12.9" height="2.9" rx="1.4" fill="#555" opacity="0.5" filter="url(#b07)"/>
<rect x="251.8" y="445.70" width="12.1" height="2.4" rx="1.4" fill="#555" filter="url(#b04)"/>
<rect x="270.2" y="445.75" width="12.8" height="2.1" rx="0.9" fill="#777" opacity="0.5" filter="url(#b07)"/>
<rect x="270.6" y="446.20" width="12.0" height="1.6" rx="0.9" fill="#777" filter="url(#b04)"/>
<rect x="103.3" y="471.50" width="14.0" height="2.2" rx="1.0" fill="#3a3a3a" opacity="0.5" filter="url(#b07)" transform="rotate(3 110.3 472.6)"/>
<rect x="103.7" y="471.75" width="13.2" height="1.7" rx="1.0" fill="#3a3a3a" filter="url(#b04)" transform="rotate(3 110.3 472.6)"/>
<rect x="123.5" y="472.40" width="12.8" height="3.2" rx="1.5" fill="#0c0c0c" opacity="0.5" filter="url(#b07)" transform="rotate(3 129.9 474.0)"/>
<rect x="123.9" y="472.65" width="12.0" height="2.7" rx="1.5" fill="#0c0c0c" filter="url(#b04)" transform="rotate(3 129.9 474.0)"/>
<rect x="141.6" y="474.00" width="13.0" height="3.0" rx="1.4" fill="#111" opacity="0.5" filter="url(#b07)" transform="rotate(2 148.1 475.5)"/>
<rect x="142.0" y="474.25" width="12.2" height="2.5" rx="1.4" fill="#111" filter="url(#b04)" transform="rotate(2 148.1 475.5)"/>
<rect x="160.4" y="474.50" width="12.8" height="3.0" rx="1.4" fill="#111" opacity="0.5" filter="url(#b07)" transform="rotate(1 166.8 476.0)"/>
<rect x="160.8" y="474.75" width="12.0" height="2.5" rx="1.4" fill="#111" filter="url(#b04)" transform="rotate(1 166.8 476.0)"/>
<rect x="178.8" y="475.10" width="13.2" height="3.2" rx="1.5" fill="#0c0c0c" opacity="0.5" filter="url(#b07)" transform="rotate(-1 185.4 476.7)"/>
<rect x="179.2" y="475.35" width="12.4" height="2.7" rx="1.5" fill="#0c0c0c" filter="url(#b04)" transform="rotate(-1 185.4 476.7)"/>
<rect x="197.9" y="474.75" width="12.3" height="3.9" rx="1.9" fill="#050505" opacity="0.5" filter="url(#b07)" transform="rotate(0 204.1 476.7)"/>
<rect x="198.3" y="475.00" width="11.5" height="3.4" rx="1.9" fill="#050505" filter="url(#b04)" transform="rotate(0 204.1 476.7)"/>
<rect x="216.0" y="475.70" width="13.0" height="3.0" rx="1.4" fill="#141414" opacity="0.5" filter="url(#b07)" transform="rotate(-1 222.5 477.2)"/>
<rect x="216.4" y="475.95" width="12.2" height="2.5" rx="1.4" fill="#141414" filter="url(#b04)" transform="rotate(-1 222.5 477.2)"/>
<rect x="234.3" y="475.15" width="13.3" height="3.7" rx="1.8" fill="#050505" opacity="0.5" filter="url(#b07)" transform="rotate(0 240.9 477.0)"/>
<rect x="234.7" y="475.40" width="12.5" height="3.2" rx="1.8" fill="#050505" filter="url(#b04)" transform="rotate(0 240.9 477.0)"/>
<rect x="253.3" y="476.00" width="12.4" height="3.0" rx="1.4" fill="#141414" opacity="0.5" filter="url(#b07)" transform="rotate(0 259.5 477.5)"/>
<rect x="253.7" y="476.25" width="11.6" height="2.5" rx="1.4" fill="#141414" filter="url(#b04)" transform="rotate(0 259.5 477.5)"/>
<rect x="271.5" y="476.75" width="12.4" height="2.5" rx="1.1" fill="#333" opacity="0.5" filter="url(#b07)" transform="rotate(0 277.7 478.0)"/>
<rect x="271.9" y="477.00" width="11.6" height="2.0" rx="1.1" fill="#333" filter="url(#b04)" transform="rotate(0 277.7 478.0)"/>
</g>
<g id="pE">
<text x="361.0" y="376.3" font-family='"Liberation Serif", "DejaVu Serif", serif' font-size="13.3" fill="#111">E</text>
<line x1="419.5" x2="419.5" y1="379.7" y2="486.4" stroke="#111" stroke-width="1.3"/>
<line x1="419.0" x2="490.8" y1="485.9" y2="485.9" stroke="#111" stroke-width="1.3"/>
<line x1="415.3" x2="419.5" y1="485.90" y2="485.90" stroke="#111" stroke-width="1.3"/>
<text x="412.7" y="488.60" font-family='"Liberation Serif", "DejaVu Serif", serif' font-size="8" font-weight="bold" text-anchor="end" fill="#111">0.0</text>
<line x1="415.3" x2="419.5" y1="450.67" y2="450.67" stroke="#111" stroke-width="1.3"/>
<text x="412.7" y="453.37" font-family='"Liberation Serif", "DejaVu Serif", serif' font-size="8" font-weight="bold" text-anchor="end" fill="#111">0.5</text>
<line x1="415.3" x2="419.5" y1="415.43" y2="415.43" stroke="#111" stroke-width="1.3"/>
<text x="412.7" y="418.13" font-family='"Liberation Serif", "DejaVu Serif", serif' font-size="8" font-weight="bold" text-anchor="end" fill="#111">1.0</text>
<line x1="415.3" x2="419.5" y1="380.20" y2="380.20" stroke="#111" stroke-width="1.3"/>
<text x="412.7" y="382.90" font-family='"Liberation Serif", "DejaVu Serif", serif' font-size="8" font-weight="bold" text-anchor="end" fill="#111">1.5</text>
<line x1="439.7" x2="439.7" y1="397.1" y2="433.1" stroke="#3a3a3a" stroke-width="1.0"/>
<line x1="434.9" x2="444.8" y1="397.1" y2="397.1" stroke="#3a3a3a" stroke-width="1.0"/>
<line x1="434.9" x2="444.8" y1="433.1" y2="433.1" stroke="#3a3a3a" stroke-width="1.0"/>
<line x1="429.6" x2="449.8" y1="415.4" y2="415.4" stroke="#1a1a1a" stroke-width="1.15"/>
<circle cx="439.7" cy="394.29" r="1.6" fill="#000"/>
<circle cx="439.7" cy="401.34" r="1.6" fill="#000"/>
<circle cx="439.7" cy="415.43" r="1.6" fill="#000"/>
<circle cx="439.7" cy="429.53" r="1.6" fill="#000"/>
<circle cx="439.7" cy="436.57" r="1.6" fill="#000"/>
<line x1="470.1" x2="470.1" y1="426.4" y2="460.7" stroke="#8a8a8a" stroke-width="1.0"/>
<line x1="465.0" x2="474.9" y1="426.4" y2="426.4" stroke="#8a8a8a" stroke-width="1.0"/>
<line x1="465.0" x2="474.9" y1="460.7" y2="460.7" stroke="#8a8a8a" stroke-width="1.0"/>
<line x1="459.7" x2="480.2" y1="443.5" y2="443.5" stroke="#1a1a1a" stroke-width="1.15"/>
<circle cx="470.1" cy="422.48" r="1.6" fill="#000"/>
<circle cx="470.1" cy="429.53" r="1.6" fill="#000"/>
<circle cx="463.6" cy="450.67" r="1.6" fill="#000"/>
<circle cx="476.3" cy="450.67" r="1.6" fill="#000"/>
<circle cx="470.1" cy="464.76" r="1.6" fill="#000"/>
<line x1="443.1" x2="465.9" y1="379.7" y2="379.7" stroke="#1a1a1a" stroke-width="1.15"/>
<text x="454.6" y="381.2" font-family='"Liberation Serif", "DejaVu Serif", serif' font-size="8.5" text-anchor="middle" fill="#111">*</text>
<line x1="439.7" x2="439.7" y1="485.9" y2="490.3" stroke="#111" stroke-width="1.3"/>
<text x="439.7" y="499.0" font-family='"Liberation Serif", "DejaVu Serif", serif' font-size="11" text-anchor="middle" fill="#111">M</text>
<line x1="470.1" x2="470.1" y1="485.9" y2="490.3" stroke="#111" stroke-width="1.3"/>
<text x="470.1" y="499.0" font-family='"Liberation Serif", "DejaVu Serif", serif' font-size="11" text-anchor="middle" fill="#111">T</text>
<text transform="translate(383.4,432.3) rotate(-90)" font-family='"Liberation Serif", "DejaVu Serif", serif' font-size="9.25" text-anchor="middle" fill="#111">WWP1 protein level</text>
<text transform="translate(394.6,432.3) rotate(-90)" font-family='"Liberation Serif", "DejaVu Serif", serif' font-size="9.4" text-anchor="middle" fill="#111">normalized to GAPDH</text>
</g>
<g id="pF">
<text x="58.8" y="539.1" font-family='"Liberation Serif", "DejaVu Serif", serif' font-size="13.3" fill="#111">F</text>
<line x1="105.2" x2="105.2" y1="553.7" y2="652.7" stroke="#111" stroke-width="1.3"/>
<line x1="104.7" x2="247.0" y1="652.2" y2="652.2" stroke="#111" stroke-width="1.3"/>
<line x1="102.2" x2="105.2" y1="652.20" y2="652.20" stroke="#111" stroke-width="1.3"/>
<text x="100.8" y="654.90" font-family='"Liberation Serif", "DejaVu Serif", serif' font-size="8" font-weight="bold" text-anchor="end" fill="#111">0</text>
<line x1="102.2" x2="105.2" y1="634.27" y2="634.27" stroke="#111" stroke-width="1.3"/>
<text x="100.8" y="636.97" font-family='"Liberation Serif", "DejaVu Serif", serif' font-size="8" font-weight="bold" text-anchor="end" fill="#111">20</text>
<line x1="102.2" x2="105.2" y1="616.34" y2="616.34" stroke="#111" stroke-width="1.3"/>
<text x="100.8" y="619.04" font-family='"Liberation Serif", "DejaVu Serif", serif' font-size="8" font-weight="bold" text-anchor="end" fill="#111">40</text>
<line x1="102.2" x2="105.2" y1="598.41" y2="598.41" stroke="#111" stroke-width="1.3"/>
<text x="100.8" y="601.11" font-family='"Liberation Serif", "DejaVu Serif", serif' font-size="8" font-weight="bold" text-anchor="end" fill="#111">60</text>
<line x1="102.2" x2="105.2" y1="580.48" y2="580.48" stroke="#111" stroke-width="1.3"/>
<text x="100.8" y="583.18" font-family='"Liberation Serif", "DejaVu Serif", serif' font-size="8" font-weight="bold" text-anchor="end" fill="#111">80</text>
<line x1="102.2" x2="105.2" y1="562.55" y2="562.55" stroke="#111" stroke-width="1.3"/>
<text x="100.8" y="565.25" font-family='"Liberation Serif", "DejaVu Serif", serif' font-size="8" font-weight="bold" text-anchor="end" fill="#111">100</text>
<line x1="105.20" x2="105.20" y1="652.2" y2="655.2" stroke="#111" stroke-width="1.3"/>
<text x="105.20" y="665.2" font-family='"Liberation Serif", "DejaVu Serif", serif' font-size="8" font-weight="bold" text-anchor="middle" fill="#111">0</text>
<line x1="128.75" x2="128.75" y1="652.2" y2="654.0" stroke="#111" stroke-width="1.3"/>
<line x1="152.30" x2="152.30" y1="652.2" y2="655.2" stroke="#111" stroke-width="1.3"/>
<text x="152.30" y="665.2" font-family='"Liberation Serif", "DejaVu Serif", serif' font-size="8" font-weight="bold" text-anchor="middle" fill="#111">20</text>
<line x1="175.85" x2="175.85" y1="652.2" y2="654.0" stroke="#111" stroke-width="1.3"/>
<line x1="199.40" x2="199.40" y1="652.2" y2="655.2" stroke="#111" stroke-width="1.3"/>
<text x="199.40" y="665.2" font-family='"Liberation Serif", "DejaVu Serif", serif' font-size="8" font-weight="bold" text-anchor="middle" fill="#111">40</text>
<line x1="222.95" x2="222.95" y1="652.2" y2="654.0" stroke="#111" stroke-width="1.3"/>
<line x1="246.50" x2="246.50" y1="652.2" y2="655.2" stroke="#111" stroke-width="1.3"/>
<text x="246.50" y="665.2" font-family='"Liberation Serif", "DejaVu Serif", serif' font-size="8" font-weight="bold" text-anchor="middle" fill="#111">60</text>
<text x="173.6" y="676.0" font-family='"Liberation Serif", "DejaVu Serif", serif' font-size="10.4" text-anchor="middle" fill="#111">Months</text>
<text transform="translate(84.6,610.4) rotate(-90)" font-family='"Liberation Serif", "DejaVu Serif", serif' font-size="10.6" text-anchor="middle" fill="#111">Overall survival</text>
<path d="M105.3 562.3 H112.0 V567.6 H114.1 V573.4 H119.0 V578.6 H128.6 V585.1 H131.1 V591.3 H133.4 V597.5 H136.0 V603.3 H140.8 V609.8 H154.5 V615.5 H168.7 V621.7 H199.2 V627.8 H223.3 V633.5" fill="none" stroke="#E8141C" stroke-width="1.7" stroke-linejoin="miter"/>
<path d="M105.3 562.3 H109.7 V566.7 H117.2 V569.9 H128.6 V573.4 H145.3 V577.2 H150.1 V580.8 H154.5 V584.3 H171.2 V588.3 H192.3 V592.4 H208.6 V597.3 H223.3" fill="none" stroke="#4A90E8" stroke-width="1.7" stroke-linejoin="miter"/>
<line x1="113.0" x2="113.0" y1="564.7" y2="566.7" stroke="#123" stroke-width="0.7"/>
<line x1="120.0" x2="120.0" y1="567.9" y2="569.9" stroke="#123" stroke-width="0.7"/>
<line x1="147.5" x2="147.5" y1="575.2" y2="577.2" stroke="#123" stroke-width="0.7"/>
<line x1="152.2" x2="152.2" y1="578.8" y2="580.8" stroke="#123" stroke-width="0.7"/>
<line x1="163.9" x2="163.9" y1="582.3" y2="584.3" stroke="#123" stroke-width="0.7"/>
<line x1="178.5" x2="178.5" y1="586.3" y2="588.3" stroke="#123" stroke-width="0.7"/>
<line x1="203.4" x2="203.4" y1="590.4" y2="592.4" stroke="#123" stroke-width="0.7"/>
<line x1="214.0" x2="214.0" y1="595.3" y2="597.3" stroke="#123" stroke-width="0.7"/>
<line x1="223.3" x2="223.3" y1="595.0" y2="597.0" stroke="#123" stroke-width="0.7"/>
<line x1="116.5" x2="116.5" y1="571.4" y2="573.4" stroke="#400" stroke-width="0.7"/>
<line x1="123.5" x2="123.5" y1="576.6" y2="578.6" stroke="#400" stroke-width="0.7"/>
<line x1="223.3" x2="223.3" y1="630.5" y2="632.5" stroke="#400" stroke-width="0.7"/>
<line x1="156.2" x2="166.8" y1="556.6" y2="556.6" stroke="#4A90E8" stroke-width="1.6"/>
<line x1="161.5" x2="161.5" y1="554.6" y2="557" stroke="#123" stroke-width="0.7"/>
<text x="172.0" y="559.3" font-family='"Liberation Serif", "DejaVu Serif", serif' font-size="7.75" font-weight="bold" fill="#111">WWP1 low expression(n=23)</text>
<line x1="156.2" x2="166.8" y1="569.6" y2="569.6" stroke="#E8141C" stroke-width="1.6"/>
<line x1="161.5" x2="161.5" y1="567.6" y2="570" stroke="#400" stroke-width="0.7"/>
<text x="172.0" y="572.3" font-family='"Liberation Serif", "DejaVu Serif", serif' font-size="7.75" font-weight="bold" fill="#111">WWP1 high expression(n=16)</text>
<text x="190.0" y="586.3" font-family='"Liberation Serif", "DejaVu Serif", serif' font-size="7.9" font-weight="bold" fill="#111">P&lt;0.01</text>
</g>
</svg></body></html>
